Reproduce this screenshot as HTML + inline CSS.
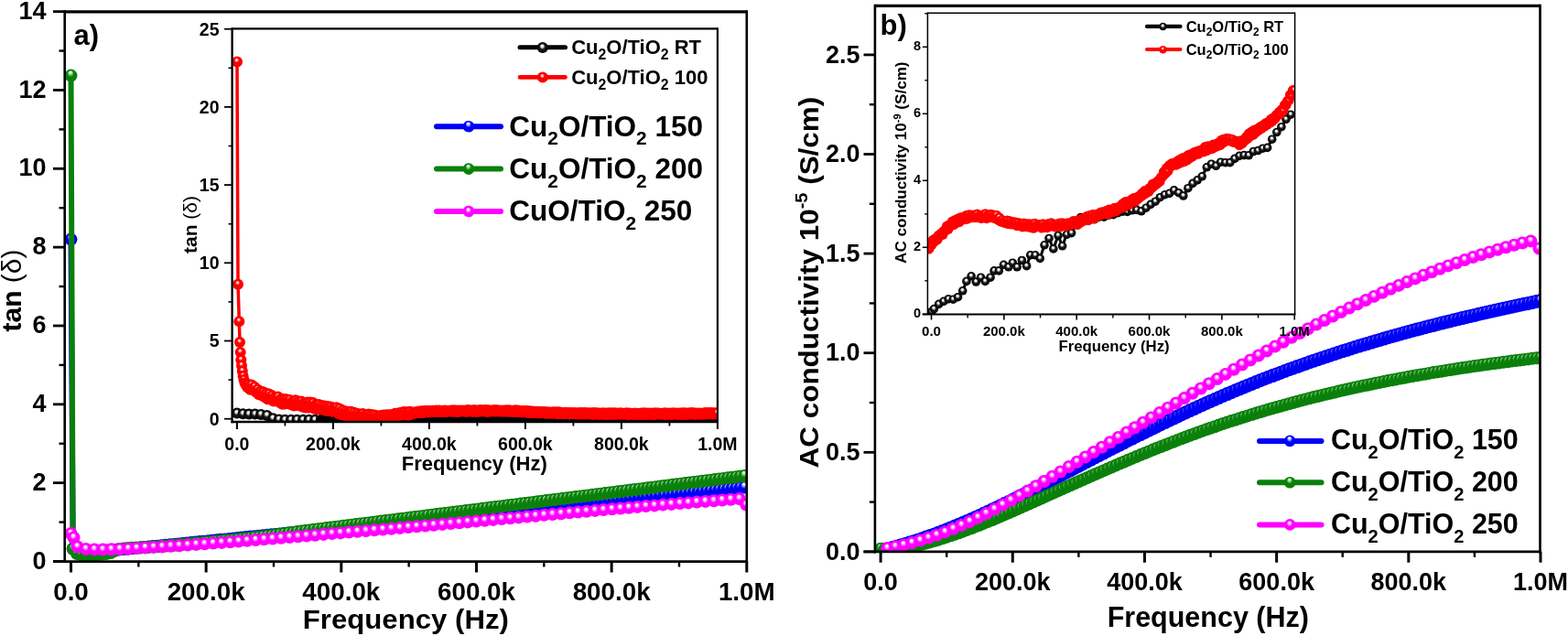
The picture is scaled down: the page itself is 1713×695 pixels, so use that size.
<!DOCTYPE html>
<html><head><meta charset="utf-8"><title>Figure</title>
<style>html,body{margin:0;padding:0;background:#fff;}svg{display:block;}text{font-family:'Liberation Sans', sans-serif;fill:#000;}</style>
</head><body>
<svg width="1713" height="695" viewBox="0 0 1713 695">
<defs><radialGradient id="gb" cx="0.5" cy="0.5" r="0.5" fx="0.45" fy="0.2"><stop offset="0" stop-color="#ffffff"/><stop offset="0.16" stop-color="#ffffff" stop-opacity="0.9"/><stop offset="0.5" stop-color="#0000f5"/><stop offset="1" stop-color="#0000f5"/></radialGradient><radialGradient id="gg" cx="0.5" cy="0.5" r="0.5" fx="0.45" fy="0.2"><stop offset="0" stop-color="#d8ffd8"/><stop offset="0.16" stop-color="#d8ffd8" stop-opacity="0.9"/><stop offset="0.5" stop-color="#0a800a"/><stop offset="1" stop-color="#0a800a"/></radialGradient><radialGradient id="gm" cx="0.5" cy="0.5" r="0.5" fx="0.45" fy="0.3"><stop offset="0" stop-color="#ffffff"/><stop offset="0.16" stop-color="#ffffff" stop-opacity="0.9"/><stop offset="0.5" stop-color="#ff00ff"/><stop offset="1" stop-color="#ff00ff"/></radialGradient><radialGradient id="gr" cx="0.5" cy="0.5" r="0.5" fx="0.45" fy="0.3"><stop offset="0" stop-color="#ffe0e0"/><stop offset="0.16" stop-color="#ffe0e0" stop-opacity="0.9"/><stop offset="0.4" stop-color="#ff0000"/><stop offset="1" stop-color="#ff0000"/></radialGradient><radialGradient id="gk" cx="0.5" cy="0.5" r="0.5" fx="0.45" fy="0.32"><stop offset="0" stop-color="#fff"/><stop offset="0.22" stop-color="#eee"/><stop offset="0.52" stop-color="#1a1a1a"/><stop offset="1" stop-color="#000"/></radialGradient><clipPath id="cA"><rect x="70.7" y="12.8" width="745.1" height="600.8"/></clipPath><clipPath id="cAI"><rect x="253.6" y="31.4" width="530.3" height="429.6"/></clipPath><clipPath id="cB"><rect x="955.9" y="6.3" width="726.6" height="596.6"/></clipPath><clipPath id="cBI"><rect x="1013.4" y="14.2" width="401.2" height="329.3"/></clipPath><circle id="mb" r="7" fill="url(#gb)"/><circle id="mb2" r="7.5" fill="url(#gb)"/><circle id="mg" r="7" fill="url(#gg)"/><circle id="mm" r="7" fill="url(#gm)"/><circle id="mr" r="6" fill="url(#gr)"/><circle id="mk" r="6" fill="url(#gk)"/><circle id="mr2" r="5.6" fill="url(#gr)"/><circle id="mk2" r="4.8" fill="url(#gk)"/><circle id="mk0" r="6" fill="#000"/><circle id="lb" r="6.3" fill="url(#gb)"/><circle id="lg" r="6.3" fill="url(#gg)"/><circle id="lm" r="6.3" fill="url(#gm)"/><circle id="lr" r="6" fill="url(#gr)"/><circle id="lk" r="6" fill="url(#gk)"/><circle id="lr2" r="4.3" fill="url(#gr)"/><circle id="lk2" r="4.3" fill="url(#gk)"/></defs>
<rect width="1713" height="695" fill="#fff"/>
<g clip-path="url(#cA)">
<polyline points="77.5,261.6 79.7,599.8 84.1,603.5 88.8,603.3 93.4,603.1 98.0,602.9 102.6,602.6 107.2,602.3 111.8,602.0 116.4,601.6 121.1,601.3 125.7,600.9 130.3,600.5 134.9,600.1 139.5,599.7 144.1,599.3 148.7,598.8 153.4,598.4 158.0,598.0 162.6,597.6 167.2,597.1 171.8,596.7 176.4,596.2 181.0,595.8 185.7,595.3 190.3,594.9 194.9,594.4 199.5,594.0 204.1,593.5 208.7,593.1 213.3,592.6 218.0,592.1 222.6,591.7 227.2,591.2 231.8,590.8 236.4,590.3 241.0,589.8 245.6,589.4 250.3,588.9 254.9,588.5 259.5,588.0 264.1,587.5 268.7,587.1 273.3,586.6 277.9,586.2 282.6,585.7 287.2,585.2 291.8,584.8 296.4,584.3 301.0,583.9 305.6,583.4 310.2,582.9 314.9,582.5 319.5,582.0 324.1,581.5 328.7,581.1 333.3,580.6 337.9,580.2 342.5,579.7 347.2,579.2 351.8,578.8 356.4,578.3 361.0,577.9 365.6,577.4 370.2,576.9 374.9,576.5 379.5,576.0 384.1,575.5 388.7,575.1 393.3,574.6 397.9,574.2 402.5,573.7 407.2,573.2 411.8,572.8 416.4,572.3 421.0,571.9 425.6,571.4 430.2,570.9 434.8,570.5 439.5,570.0 444.1,569.6 448.7,569.1 453.3,568.6 457.9,568.2 462.5,567.7 467.1,567.2 471.8,566.8 476.4,566.3 481.0,565.9 485.6,565.4 490.2,564.9 494.8,564.5 499.4,564.0 504.1,563.6 508.7,563.1 513.3,562.6 517.9,562.2 522.5,561.7 527.1,561.2 531.7,560.8 536.4,560.3 541.0,559.9 545.6,559.4 550.2,558.9 554.8,558.5 559.4,558.0 564.0,557.6 568.7,557.1 573.3,556.6 577.9,556.2 582.5,555.7 587.1,555.2 591.7,554.8 596.3,554.3 601.0,553.9 605.6,553.4 610.2,552.9 614.8,552.5 619.4,552.0 624.0,551.6 628.6,551.1 633.3,550.6 637.9,550.2 642.5,549.7 647.1,549.2 651.7,548.8 656.3,548.3 660.9,547.9 665.6,547.4 670.2,546.9 674.8,546.5 679.4,546.0 684.0,545.6 688.6,545.1 693.2,544.6 697.9,544.2 702.5,543.7 707.1,543.3 711.7,542.8 716.3,542.3 720.9,541.9 725.5,541.4 730.2,540.9 734.8,540.5 739.4,540.0 744.0,539.6 748.6,539.1 753.2,538.6 757.8,538.2 762.5,537.7 767.1,537.3 771.7,536.8 776.3,536.3 780.9,535.9 785.5,535.4 790.1,534.9 794.8,534.5 799.4,534.0 804.0,533.6 808.6,533.1 813.2,532.6" fill="none" stroke="#0000f5" stroke-width="6" stroke-linejoin="round" stroke-linecap="round"/>
<use href="#mb" x="77.5" y="261.6"/>
<use href="#mb" x="79.7" y="599.8"/>
<use href="#mb" x="84.1" y="603.5"/>
<use href="#mb" x="88.8" y="603.3"/>
<use href="#mb" x="93.4" y="603.1"/>
<use href="#mb" x="98.0" y="602.9"/>
<use href="#mb" x="102.6" y="602.6"/>
<use href="#mb" x="107.2" y="602.3"/>
<use href="#mb" x="111.8" y="602.0"/>
<use href="#mb" x="116.4" y="601.6"/>
<use href="#mb" x="121.1" y="601.3"/>
<use href="#mb" x="125.7" y="600.9"/>
<use href="#mb" x="130.3" y="600.5"/>
<use href="#mb" x="134.9" y="600.1"/>
<use href="#mb" x="139.5" y="599.7"/>
<use href="#mb" x="144.1" y="599.3"/>
<use href="#mb" x="148.7" y="598.8"/>
<use href="#mb" x="153.4" y="598.4"/>
<use href="#mb" x="158.0" y="598.0"/>
<use href="#mb" x="162.6" y="597.6"/>
<use href="#mb" x="167.2" y="597.1"/>
<use href="#mb" x="171.8" y="596.7"/>
<use href="#mb" x="176.4" y="596.2"/>
<use href="#mb" x="181.0" y="595.8"/>
<use href="#mb" x="185.7" y="595.3"/>
<use href="#mb" x="190.3" y="594.9"/>
<use href="#mb" x="194.9" y="594.4"/>
<use href="#mb" x="199.5" y="594.0"/>
<use href="#mb" x="204.1" y="593.5"/>
<use href="#mb" x="208.7" y="593.1"/>
<use href="#mb" x="213.3" y="592.6"/>
<use href="#mb" x="218.0" y="592.1"/>
<use href="#mb" x="222.6" y="591.7"/>
<use href="#mb" x="227.2" y="591.2"/>
<use href="#mb" x="231.8" y="590.8"/>
<use href="#mb" x="236.4" y="590.3"/>
<use href="#mb" x="241.0" y="589.8"/>
<use href="#mb" x="245.6" y="589.4"/>
<use href="#mb" x="250.3" y="588.9"/>
<use href="#mb" x="254.9" y="588.5"/>
<use href="#mb" x="259.5" y="588.0"/>
<use href="#mb" x="264.1" y="587.5"/>
<use href="#mb" x="268.7" y="587.1"/>
<use href="#mb" x="273.3" y="586.6"/>
<use href="#mb" x="277.9" y="586.2"/>
<use href="#mb" x="282.6" y="585.7"/>
<use href="#mb" x="287.2" y="585.2"/>
<use href="#mb" x="291.8" y="584.8"/>
<use href="#mb" x="296.4" y="584.3"/>
<use href="#mb" x="301.0" y="583.9"/>
<use href="#mb" x="305.6" y="583.4"/>
<use href="#mb" x="310.2" y="582.9"/>
<use href="#mb" x="314.9" y="582.5"/>
<use href="#mb" x="319.5" y="582.0"/>
<use href="#mb" x="324.1" y="581.5"/>
<use href="#mb" x="328.7" y="581.1"/>
<use href="#mb" x="333.3" y="580.6"/>
<use href="#mb" x="337.9" y="580.2"/>
<use href="#mb" x="342.5" y="579.7"/>
<use href="#mb" x="347.2" y="579.2"/>
<use href="#mb" x="351.8" y="578.8"/>
<use href="#mb" x="356.4" y="578.3"/>
<use href="#mb" x="361.0" y="577.9"/>
<use href="#mb" x="365.6" y="577.4"/>
<use href="#mb" x="370.2" y="576.9"/>
<use href="#mb" x="374.9" y="576.5"/>
<use href="#mb" x="379.5" y="576.0"/>
<use href="#mb" x="384.1" y="575.5"/>
<use href="#mb" x="388.7" y="575.1"/>
<use href="#mb" x="393.3" y="574.6"/>
<use href="#mb" x="397.9" y="574.2"/>
<use href="#mb" x="402.5" y="573.7"/>
<use href="#mb" x="407.2" y="573.2"/>
<use href="#mb" x="411.8" y="572.8"/>
<use href="#mb" x="416.4" y="572.3"/>
<use href="#mb" x="421.0" y="571.9"/>
<use href="#mb" x="425.6" y="571.4"/>
<use href="#mb" x="430.2" y="570.9"/>
<use href="#mb" x="434.8" y="570.5"/>
<use href="#mb" x="439.5" y="570.0"/>
<use href="#mb" x="444.1" y="569.6"/>
<use href="#mb" x="448.7" y="569.1"/>
<use href="#mb" x="453.3" y="568.6"/>
<use href="#mb" x="457.9" y="568.2"/>
<use href="#mb" x="462.5" y="567.7"/>
<use href="#mb" x="467.1" y="567.2"/>
<use href="#mb" x="471.8" y="566.8"/>
<use href="#mb" x="476.4" y="566.3"/>
<use href="#mb" x="481.0" y="565.9"/>
<use href="#mb" x="485.6" y="565.4"/>
<use href="#mb" x="490.2" y="564.9"/>
<use href="#mb" x="494.8" y="564.5"/>
<use href="#mb" x="499.4" y="564.0"/>
<use href="#mb" x="504.1" y="563.6"/>
<use href="#mb" x="508.7" y="563.1"/>
<use href="#mb" x="513.3" y="562.6"/>
<use href="#mb" x="517.9" y="562.2"/>
<use href="#mb" x="522.5" y="561.7"/>
<use href="#mb" x="527.1" y="561.2"/>
<use href="#mb" x="531.7" y="560.8"/>
<use href="#mb" x="536.4" y="560.3"/>
<use href="#mb" x="541.0" y="559.9"/>
<use href="#mb" x="545.6" y="559.4"/>
<use href="#mb" x="550.2" y="558.9"/>
<use href="#mb" x="554.8" y="558.5"/>
<use href="#mb" x="559.4" y="558.0"/>
<use href="#mb" x="564.0" y="557.6"/>
<use href="#mb" x="568.7" y="557.1"/>
<use href="#mb" x="573.3" y="556.6"/>
<use href="#mb" x="577.9" y="556.2"/>
<use href="#mb" x="582.5" y="555.7"/>
<use href="#mb" x="587.1" y="555.2"/>
<use href="#mb" x="591.7" y="554.8"/>
<use href="#mb" x="596.3" y="554.3"/>
<use href="#mb" x="601.0" y="553.9"/>
<use href="#mb" x="605.6" y="553.4"/>
<use href="#mb" x="610.2" y="552.9"/>
<use href="#mb" x="614.8" y="552.5"/>
<use href="#mb" x="619.4" y="552.0"/>
<use href="#mb" x="624.0" y="551.6"/>
<use href="#mb" x="628.6" y="551.1"/>
<use href="#mb" x="633.3" y="550.6"/>
<use href="#mb" x="637.9" y="550.2"/>
<use href="#mb" x="642.5" y="549.7"/>
<use href="#mb" x="647.1" y="549.2"/>
<use href="#mb" x="651.7" y="548.8"/>
<use href="#mb" x="656.3" y="548.3"/>
<use href="#mb" x="660.9" y="547.9"/>
<use href="#mb" x="665.6" y="547.4"/>
<use href="#mb" x="670.2" y="546.9"/>
<use href="#mb" x="674.8" y="546.5"/>
<use href="#mb" x="679.4" y="546.0"/>
<use href="#mb" x="684.0" y="545.6"/>
<use href="#mb" x="688.6" y="545.1"/>
<use href="#mb" x="693.2" y="544.6"/>
<use href="#mb" x="697.9" y="544.2"/>
<use href="#mb" x="702.5" y="543.7"/>
<use href="#mb" x="707.1" y="543.3"/>
<use href="#mb" x="711.7" y="542.8"/>
<use href="#mb" x="716.3" y="542.3"/>
<use href="#mb" x="720.9" y="541.9"/>
<use href="#mb" x="725.5" y="541.4"/>
<use href="#mb" x="730.2" y="540.9"/>
<use href="#mb" x="734.8" y="540.5"/>
<use href="#mb" x="739.4" y="540.0"/>
<use href="#mb" x="744.0" y="539.6"/>
<use href="#mb" x="748.6" y="539.1"/>
<use href="#mb" x="753.2" y="538.6"/>
<use href="#mb" x="757.8" y="538.2"/>
<use href="#mb" x="762.5" y="537.7"/>
<use href="#mb" x="767.1" y="537.3"/>
<use href="#mb" x="771.7" y="536.8"/>
<use href="#mb" x="776.3" y="536.3"/>
<use href="#mb" x="780.9" y="535.9"/>
<use href="#mb" x="785.5" y="535.4"/>
<use href="#mb" x="790.1" y="534.9"/>
<use href="#mb" x="794.8" y="534.5"/>
<use href="#mb" x="799.4" y="534.0"/>
<use href="#mb" x="804.0" y="533.6"/>
<use href="#mb" x="808.6" y="533.1"/>
<use href="#mb" x="813.2" y="532.6"/>
<polyline points="77.5,82.6 79.7,599.8 84.1,605.0 88.8,606.2 93.4,606.4 98.0,606.4 102.6,606.3 107.2,606.0 111.8,605.6 116.4,605.0 121.1,604.0 125.7,601.8 130.3,599.9 134.9,599.4 139.5,599.1 144.1,598.8 148.7,598.6 153.4,598.3 158.0,598.0 162.6,597.7 167.2,597.4 171.8,597.2 176.4,596.8 181.0,596.5 185.7,596.1 190.3,595.7 194.9,595.3 199.5,594.9 204.1,594.5 208.7,594.1 213.3,593.6 218.0,593.2 222.6,592.8 227.2,592.3 231.8,591.9 236.4,591.5 241.0,591.1 245.6,590.6 250.3,590.2 254.9,589.8 259.5,589.3 264.1,588.8 268.7,588.3 273.3,587.8 277.9,587.3 282.6,586.8 287.2,586.2 291.8,585.6 296.4,585.1 301.0,584.5 305.6,583.8 310.2,583.2 314.9,582.5 319.5,581.9 324.1,581.2 328.7,580.6 333.3,580.0 337.9,579.4 342.5,578.8 347.2,578.2 351.8,577.7 356.4,577.1 361.0,576.6 365.6,576.0 370.2,575.4 374.9,574.8 379.5,574.3 384.1,573.7 388.7,573.1 393.3,572.5 397.9,571.9 402.5,571.4 407.2,570.8 411.8,570.2 416.4,569.6 421.0,569.1 425.6,568.5 430.2,567.9 434.8,567.3 439.5,566.8 444.1,566.2 448.7,565.6 453.3,565.0 457.9,564.5 462.5,563.9 467.1,563.3 471.8,562.7 476.4,562.1 481.0,561.6 485.6,561.0 490.2,560.4 494.8,559.8 499.4,559.3 504.1,558.7 508.7,558.1 513.3,557.5 517.9,557.0 522.5,556.4 527.1,555.8 531.7,555.2 536.4,554.6 541.0,554.1 545.6,553.5 550.2,552.9 554.8,552.3 559.4,551.8 564.0,551.2 568.7,550.6 573.3,550.0 577.9,549.5 582.5,548.9 587.1,548.3 591.7,547.7 596.3,547.1 601.0,546.6 605.6,546.0 610.2,545.4 614.8,544.8 619.4,544.3 624.0,543.7 628.6,543.1 633.3,542.5 637.9,542.0 642.5,541.4 647.1,540.8 651.7,540.2 656.3,539.7 660.9,539.1 665.6,538.5 670.2,537.9 674.8,537.3 679.4,536.8 684.0,536.2 688.6,535.6 693.2,535.0 697.9,534.5 702.5,533.9 707.1,533.3 711.7,532.7 716.3,532.2 720.9,531.6 725.5,531.0 730.2,530.4 734.8,529.8 739.4,529.3 744.0,528.7 748.6,528.1 753.2,527.5 757.8,527.0 762.5,526.4 767.1,525.8 771.7,525.2 776.3,524.7 780.9,524.1 785.5,523.5 790.1,522.9 794.8,522.3 799.4,521.8 804.0,521.2 808.6,520.6 813.2,520.0" fill="none" stroke="#0a800a" stroke-width="6" stroke-linejoin="round" stroke-linecap="round"/>
<use href="#mg" x="77.5" y="82.6"/>
<use href="#mg" x="79.7" y="599.8"/>
<use href="#mg" x="84.1" y="605.0"/>
<use href="#mg" x="88.8" y="606.2"/>
<use href="#mg" x="93.4" y="606.4"/>
<use href="#mg" x="98.0" y="606.4"/>
<use href="#mg" x="102.6" y="606.3"/>
<use href="#mg" x="107.2" y="606.0"/>
<use href="#mg" x="111.8" y="605.6"/>
<use href="#mg" x="116.4" y="605.0"/>
<use href="#mg" x="121.1" y="604.0"/>
<use href="#mg" x="125.7" y="601.8"/>
<use href="#mg" x="130.3" y="599.9"/>
<use href="#mg" x="134.9" y="599.4"/>
<use href="#mg" x="139.5" y="599.1"/>
<use href="#mg" x="144.1" y="598.8"/>
<use href="#mg" x="148.7" y="598.6"/>
<use href="#mg" x="153.4" y="598.3"/>
<use href="#mg" x="158.0" y="598.0"/>
<use href="#mg" x="162.6" y="597.7"/>
<use href="#mg" x="167.2" y="597.4"/>
<use href="#mg" x="171.8" y="597.2"/>
<use href="#mg" x="176.4" y="596.8"/>
<use href="#mg" x="181.0" y="596.5"/>
<use href="#mg" x="185.7" y="596.1"/>
<use href="#mg" x="190.3" y="595.7"/>
<use href="#mg" x="194.9" y="595.3"/>
<use href="#mg" x="199.5" y="594.9"/>
<use href="#mg" x="204.1" y="594.5"/>
<use href="#mg" x="208.7" y="594.1"/>
<use href="#mg" x="213.3" y="593.6"/>
<use href="#mg" x="218.0" y="593.2"/>
<use href="#mg" x="222.6" y="592.8"/>
<use href="#mg" x="227.2" y="592.3"/>
<use href="#mg" x="231.8" y="591.9"/>
<use href="#mg" x="236.4" y="591.5"/>
<use href="#mg" x="241.0" y="591.1"/>
<use href="#mg" x="245.6" y="590.6"/>
<use href="#mg" x="250.3" y="590.2"/>
<use href="#mg" x="254.9" y="589.8"/>
<use href="#mg" x="259.5" y="589.3"/>
<use href="#mg" x="264.1" y="588.8"/>
<use href="#mg" x="268.7" y="588.3"/>
<use href="#mg" x="273.3" y="587.8"/>
<use href="#mg" x="277.9" y="587.3"/>
<use href="#mg" x="282.6" y="586.8"/>
<use href="#mg" x="287.2" y="586.2"/>
<use href="#mg" x="291.8" y="585.6"/>
<use href="#mg" x="296.4" y="585.1"/>
<use href="#mg" x="301.0" y="584.5"/>
<use href="#mg" x="305.6" y="583.8"/>
<use href="#mg" x="310.2" y="583.2"/>
<use href="#mg" x="314.9" y="582.5"/>
<use href="#mg" x="319.5" y="581.9"/>
<use href="#mg" x="324.1" y="581.2"/>
<use href="#mg" x="328.7" y="580.6"/>
<use href="#mg" x="333.3" y="580.0"/>
<use href="#mg" x="337.9" y="579.4"/>
<use href="#mg" x="342.5" y="578.8"/>
<use href="#mg" x="347.2" y="578.2"/>
<use href="#mg" x="351.8" y="577.7"/>
<use href="#mg" x="356.4" y="577.1"/>
<use href="#mg" x="361.0" y="576.6"/>
<use href="#mg" x="365.6" y="576.0"/>
<use href="#mg" x="370.2" y="575.4"/>
<use href="#mg" x="374.9" y="574.8"/>
<use href="#mg" x="379.5" y="574.3"/>
<use href="#mg" x="384.1" y="573.7"/>
<use href="#mg" x="388.7" y="573.1"/>
<use href="#mg" x="393.3" y="572.5"/>
<use href="#mg" x="397.9" y="571.9"/>
<use href="#mg" x="402.5" y="571.4"/>
<use href="#mg" x="407.2" y="570.8"/>
<use href="#mg" x="411.8" y="570.2"/>
<use href="#mg" x="416.4" y="569.6"/>
<use href="#mg" x="421.0" y="569.1"/>
<use href="#mg" x="425.6" y="568.5"/>
<use href="#mg" x="430.2" y="567.9"/>
<use href="#mg" x="434.8" y="567.3"/>
<use href="#mg" x="439.5" y="566.8"/>
<use href="#mg" x="444.1" y="566.2"/>
<use href="#mg" x="448.7" y="565.6"/>
<use href="#mg" x="453.3" y="565.0"/>
<use href="#mg" x="457.9" y="564.5"/>
<use href="#mg" x="462.5" y="563.9"/>
<use href="#mg" x="467.1" y="563.3"/>
<use href="#mg" x="471.8" y="562.7"/>
<use href="#mg" x="476.4" y="562.1"/>
<use href="#mg" x="481.0" y="561.6"/>
<use href="#mg" x="485.6" y="561.0"/>
<use href="#mg" x="490.2" y="560.4"/>
<use href="#mg" x="494.8" y="559.8"/>
<use href="#mg" x="499.4" y="559.3"/>
<use href="#mg" x="504.1" y="558.7"/>
<use href="#mg" x="508.7" y="558.1"/>
<use href="#mg" x="513.3" y="557.5"/>
<use href="#mg" x="517.9" y="557.0"/>
<use href="#mg" x="522.5" y="556.4"/>
<use href="#mg" x="527.1" y="555.8"/>
<use href="#mg" x="531.7" y="555.2"/>
<use href="#mg" x="536.4" y="554.6"/>
<use href="#mg" x="541.0" y="554.1"/>
<use href="#mg" x="545.6" y="553.5"/>
<use href="#mg" x="550.2" y="552.9"/>
<use href="#mg" x="554.8" y="552.3"/>
<use href="#mg" x="559.4" y="551.8"/>
<use href="#mg" x="564.0" y="551.2"/>
<use href="#mg" x="568.7" y="550.6"/>
<use href="#mg" x="573.3" y="550.0"/>
<use href="#mg" x="577.9" y="549.5"/>
<use href="#mg" x="582.5" y="548.9"/>
<use href="#mg" x="587.1" y="548.3"/>
<use href="#mg" x="591.7" y="547.7"/>
<use href="#mg" x="596.3" y="547.1"/>
<use href="#mg" x="601.0" y="546.6"/>
<use href="#mg" x="605.6" y="546.0"/>
<use href="#mg" x="610.2" y="545.4"/>
<use href="#mg" x="614.8" y="544.8"/>
<use href="#mg" x="619.4" y="544.3"/>
<use href="#mg" x="624.0" y="543.7"/>
<use href="#mg" x="628.6" y="543.1"/>
<use href="#mg" x="633.3" y="542.5"/>
<use href="#mg" x="637.9" y="542.0"/>
<use href="#mg" x="642.5" y="541.4"/>
<use href="#mg" x="647.1" y="540.8"/>
<use href="#mg" x="651.7" y="540.2"/>
<use href="#mg" x="656.3" y="539.7"/>
<use href="#mg" x="660.9" y="539.1"/>
<use href="#mg" x="665.6" y="538.5"/>
<use href="#mg" x="670.2" y="537.9"/>
<use href="#mg" x="674.8" y="537.3"/>
<use href="#mg" x="679.4" y="536.8"/>
<use href="#mg" x="684.0" y="536.2"/>
<use href="#mg" x="688.6" y="535.6"/>
<use href="#mg" x="693.2" y="535.0"/>
<use href="#mg" x="697.9" y="534.5"/>
<use href="#mg" x="702.5" y="533.9"/>
<use href="#mg" x="707.1" y="533.3"/>
<use href="#mg" x="711.7" y="532.7"/>
<use href="#mg" x="716.3" y="532.2"/>
<use href="#mg" x="720.9" y="531.6"/>
<use href="#mg" x="725.5" y="531.0"/>
<use href="#mg" x="730.2" y="530.4"/>
<use href="#mg" x="734.8" y="529.8"/>
<use href="#mg" x="739.4" y="529.3"/>
<use href="#mg" x="744.0" y="528.7"/>
<use href="#mg" x="748.6" y="528.1"/>
<use href="#mg" x="753.2" y="527.5"/>
<use href="#mg" x="757.8" y="527.0"/>
<use href="#mg" x="762.5" y="526.4"/>
<use href="#mg" x="767.1" y="525.8"/>
<use href="#mg" x="771.7" y="525.2"/>
<use href="#mg" x="776.3" y="524.7"/>
<use href="#mg" x="780.9" y="524.1"/>
<use href="#mg" x="785.5" y="523.5"/>
<use href="#mg" x="790.1" y="522.9"/>
<use href="#mg" x="794.8" y="522.3"/>
<use href="#mg" x="799.4" y="521.8"/>
<use href="#mg" x="804.0" y="521.2"/>
<use href="#mg" x="808.6" y="520.6"/>
<use href="#mg" x="813.2" y="520.0"/>
<polyline points="77.5,583.0 80.5,587.5 84.6,597.4 93.9,599.9 103.1,600.4 112.4,600.6 121.7,600.3 130.9,600.0 140.2,599.6 149.5,599.1 158.8,598.5 168.0,597.9 177.3,597.4 186.6,596.8 195.8,596.2 205.1,595.6 214.4,594.9 223.6,594.3 232.9,593.6 242.2,592.9 251.5,592.2 260.7,591.5 270.0,590.8 279.3,590.1 288.5,589.3 297.8,588.6 307.1,587.8 316.4,587.0 325.6,586.3 334.9,585.5 344.2,584.7 353.4,583.9 362.7,583.1 372.0,582.4 381.2,581.6 390.5,580.8 399.8,580.0 409.0,579.2 418.3,578.5 427.6,577.7 436.9,576.9 446.1,576.1 455.4,575.3 464.7,574.5 473.9,573.7 483.2,572.9 492.5,572.1 501.8,571.2 511.0,570.4 520.3,569.6 529.6,568.7 538.8,567.9 548.1,567.0 557.4,566.2 566.6,565.4 575.9,564.5 585.2,563.7 594.4,562.8 603.7,562.0 613.0,561.2 622.3,560.3 631.5,559.5 640.8,558.7 650.1,557.9 659.3,557.1 668.6,556.3 677.9,555.5 687.1,554.7 696.4,553.9 705.7,553.1 715.0,552.4 724.2,551.6 733.5,550.9 742.8,550.1 752.0,549.4 761.3,548.6 770.6,547.9 779.9,547.2 789.1,546.5 798.4,545.7 807.7,545.0 815.3,551.5" fill="none" stroke="#ff00ff" stroke-width="6" stroke-linejoin="round" stroke-linecap="round"/>
<use href="#mm" x="77.5" y="583.0"/>
<use href="#mm" x="80.5" y="587.5"/>
<use href="#mm" x="84.6" y="597.4"/>
<use href="#mm" x="93.9" y="599.9"/>
<use href="#mm" x="103.1" y="600.4"/>
<use href="#mm" x="112.4" y="600.6"/>
<use href="#mm" x="121.7" y="600.3"/>
<use href="#mm" x="130.9" y="600.0"/>
<use href="#mm" x="140.2" y="599.6"/>
<use href="#mm" x="149.5" y="599.1"/>
<use href="#mm" x="158.8" y="598.5"/>
<use href="#mm" x="168.0" y="597.9"/>
<use href="#mm" x="177.3" y="597.4"/>
<use href="#mm" x="186.6" y="596.8"/>
<use href="#mm" x="195.8" y="596.2"/>
<use href="#mm" x="205.1" y="595.6"/>
<use href="#mm" x="214.4" y="594.9"/>
<use href="#mm" x="223.6" y="594.3"/>
<use href="#mm" x="232.9" y="593.6"/>
<use href="#mm" x="242.2" y="592.9"/>
<use href="#mm" x="251.5" y="592.2"/>
<use href="#mm" x="260.7" y="591.5"/>
<use href="#mm" x="270.0" y="590.8"/>
<use href="#mm" x="279.3" y="590.1"/>
<use href="#mm" x="288.5" y="589.3"/>
<use href="#mm" x="297.8" y="588.6"/>
<use href="#mm" x="307.1" y="587.8"/>
<use href="#mm" x="316.4" y="587.0"/>
<use href="#mm" x="325.6" y="586.3"/>
<use href="#mm" x="334.9" y="585.5"/>
<use href="#mm" x="344.2" y="584.7"/>
<use href="#mm" x="353.4" y="583.9"/>
<use href="#mm" x="362.7" y="583.1"/>
<use href="#mm" x="372.0" y="582.4"/>
<use href="#mm" x="381.2" y="581.6"/>
<use href="#mm" x="390.5" y="580.8"/>
<use href="#mm" x="399.8" y="580.0"/>
<use href="#mm" x="409.0" y="579.2"/>
<use href="#mm" x="418.3" y="578.5"/>
<use href="#mm" x="427.6" y="577.7"/>
<use href="#mm" x="436.9" y="576.9"/>
<use href="#mm" x="446.1" y="576.1"/>
<use href="#mm" x="455.4" y="575.3"/>
<use href="#mm" x="464.7" y="574.5"/>
<use href="#mm" x="473.9" y="573.7"/>
<use href="#mm" x="483.2" y="572.9"/>
<use href="#mm" x="492.5" y="572.1"/>
<use href="#mm" x="501.8" y="571.2"/>
<use href="#mm" x="511.0" y="570.4"/>
<use href="#mm" x="520.3" y="569.6"/>
<use href="#mm" x="529.6" y="568.7"/>
<use href="#mm" x="538.8" y="567.9"/>
<use href="#mm" x="548.1" y="567.0"/>
<use href="#mm" x="557.4" y="566.2"/>
<use href="#mm" x="566.6" y="565.4"/>
<use href="#mm" x="575.9" y="564.5"/>
<use href="#mm" x="585.2" y="563.7"/>
<use href="#mm" x="594.4" y="562.8"/>
<use href="#mm" x="603.7" y="562.0"/>
<use href="#mm" x="613.0" y="561.2"/>
<use href="#mm" x="622.3" y="560.3"/>
<use href="#mm" x="631.5" y="559.5"/>
<use href="#mm" x="640.8" y="558.7"/>
<use href="#mm" x="650.1" y="557.9"/>
<use href="#mm" x="659.3" y="557.1"/>
<use href="#mm" x="668.6" y="556.3"/>
<use href="#mm" x="677.9" y="555.5"/>
<use href="#mm" x="687.1" y="554.7"/>
<use href="#mm" x="696.4" y="553.9"/>
<use href="#mm" x="705.7" y="553.1"/>
<use href="#mm" x="715.0" y="552.4"/>
<use href="#mm" x="724.2" y="551.6"/>
<use href="#mm" x="733.5" y="550.9"/>
<use href="#mm" x="742.8" y="550.1"/>
<use href="#mm" x="752.0" y="549.4"/>
<use href="#mm" x="761.3" y="548.6"/>
<use href="#mm" x="770.6" y="547.9"/>
<use href="#mm" x="779.9" y="547.2"/>
<use href="#mm" x="789.1" y="546.5"/>
<use href="#mm" x="798.4" y="545.7"/>
<use href="#mm" x="807.7" y="545.0"/>
<use href="#mm" x="815.3" y="551.5"/>
</g>
<line x1="70.70" y1="12.80" x2="815.80" y2="12.80" stroke="#000" stroke-width="3.3"/>
<line x1="70.70" y1="11.20" x2="70.70" y2="615.00" stroke="#000" stroke-width="2.6"/>
<line x1="815.80" y1="11.20" x2="815.80" y2="615.00" stroke="#000" stroke-width="2.6"/>
<line x1="58.00" y1="613.60" x2="817.00" y2="613.60" stroke="#000" stroke-width="2.8"/>
<line x1="58.00" y1="613.50" x2="70.70" y2="613.50" stroke="#000" stroke-width="2.8"/>
<text x="50.50" y="621.60" font-size="27" text-anchor="end" font-weight="bold" >0</text>
<line x1="64.50" y1="570.58" x2="70.70" y2="570.58" stroke="#000" stroke-width="2.4"/>
<line x1="58.00" y1="527.66" x2="70.70" y2="527.66" stroke="#000" stroke-width="2.8"/>
<text x="50.50" y="535.76" font-size="27" text-anchor="end" font-weight="bold" >2</text>
<line x1="64.50" y1="484.74" x2="70.70" y2="484.74" stroke="#000" stroke-width="2.4"/>
<line x1="58.00" y1="441.82" x2="70.70" y2="441.82" stroke="#000" stroke-width="2.8"/>
<text x="50.50" y="449.92" font-size="27" text-anchor="end" font-weight="bold" >4</text>
<line x1="64.50" y1="398.90" x2="70.70" y2="398.90" stroke="#000" stroke-width="2.4"/>
<line x1="58.00" y1="355.98" x2="70.70" y2="355.98" stroke="#000" stroke-width="2.8"/>
<text x="50.50" y="364.08" font-size="27" text-anchor="end" font-weight="bold" >6</text>
<line x1="64.50" y1="313.06" x2="70.70" y2="313.06" stroke="#000" stroke-width="2.4"/>
<line x1="58.00" y1="270.14" x2="70.70" y2="270.14" stroke="#000" stroke-width="2.8"/>
<text x="50.50" y="278.24" font-size="27" text-anchor="end" font-weight="bold" >8</text>
<line x1="64.50" y1="227.22" x2="70.70" y2="227.22" stroke="#000" stroke-width="2.4"/>
<line x1="58.00" y1="184.30" x2="70.70" y2="184.30" stroke="#000" stroke-width="2.8"/>
<text x="50.50" y="192.40" font-size="27" text-anchor="end" font-weight="bold" >10</text>
<line x1="64.50" y1="141.38" x2="70.70" y2="141.38" stroke="#000" stroke-width="2.4"/>
<line x1="58.00" y1="98.46" x2="70.70" y2="98.46" stroke="#000" stroke-width="2.8"/>
<text x="50.50" y="106.56" font-size="27" text-anchor="end" font-weight="bold" >12</text>
<line x1="64.50" y1="55.54" x2="70.70" y2="55.54" stroke="#000" stroke-width="2.4"/>
<line x1="58.00" y1="12.62" x2="70.70" y2="12.62" stroke="#000" stroke-width="2.8"/>
<text x="50.50" y="20.72" font-size="27" text-anchor="end" font-weight="bold" >14</text>
<line x1="77.50" y1="613.60" x2="77.50" y2="625.50" stroke="#000" stroke-width="3"/>
<line x1="151.33" y1="613.60" x2="151.33" y2="619.50" stroke="#000" stroke-width="2.4"/>
<line x1="225.16" y1="613.60" x2="225.16" y2="625.50" stroke="#000" stroke-width="3"/>
<line x1="298.99" y1="613.60" x2="298.99" y2="619.50" stroke="#000" stroke-width="2.4"/>
<line x1="372.82" y1="613.60" x2="372.82" y2="625.50" stroke="#000" stroke-width="3"/>
<line x1="446.65" y1="613.60" x2="446.65" y2="619.50" stroke="#000" stroke-width="2.4"/>
<line x1="520.48" y1="613.60" x2="520.48" y2="625.50" stroke="#000" stroke-width="3"/>
<line x1="594.31" y1="613.60" x2="594.31" y2="619.50" stroke="#000" stroke-width="2.4"/>
<line x1="668.14" y1="613.60" x2="668.14" y2="625.50" stroke="#000" stroke-width="3"/>
<line x1="741.97" y1="613.60" x2="741.97" y2="619.50" stroke="#000" stroke-width="2.4"/>
<line x1="815.80" y1="613.60" x2="815.80" y2="625.50" stroke="#000" stroke-width="3"/>
<text transform="translate(77.50,656.00) scale(1.030,1)" font-size="27" text-anchor="middle" font-weight="bold" >0.0</text>
<text transform="translate(225.16,656.00) scale(1.030,1)" font-size="27" text-anchor="middle" font-weight="bold" >200.0k</text>
<text transform="translate(372.82,656.00) scale(1.030,1)" font-size="27" text-anchor="middle" font-weight="bold" >400.0k</text>
<text transform="translate(520.48,656.00) scale(1.030,1)" font-size="27" text-anchor="middle" font-weight="bold" >600.0k</text>
<text transform="translate(668.14,656.00) scale(1.030,1)" font-size="27" text-anchor="middle" font-weight="bold" >800.0k</text>
<text transform="translate(815.80,656.00) scale(1.030,1)" font-size="27" text-anchor="middle" font-weight="bold" >1.0M</text>
<text transform="translate(443.30,686.50) scale(1.057,1)" font-size="29.5" text-anchor="middle" font-weight="bold" >Frequency (Hz)</text>
<text transform="translate(22.9,317.5) rotate(-90)" font-size="30" text-anchor="middle" font-weight="bold">tan <tspan font-weight="normal">(δ)</tspan></text>
<text x="80.50" y="49.20" font-size="31" text-anchor="start" font-weight="bold" >a)</text>
<g clip-path="url(#cAI)">
<polyline points="258.9,451.6 265.5,452.3 272.0,452.6 278.6,452.6 285.1,452.9 291.7,453.9 298.3,457.2 304.8,458.4 311.4,458.8 318.0,458.8 324.5,458.8 331.1,458.8 337.6,458.8 344.2,458.8 350.8,458.8 357.3,458.9 363.9,458.9 370.5,458.9 377.0,458.9 383.6,458.9 390.1,458.9 396.7,458.9 403.3,458.9 409.8,458.9 416.4,458.9 423.0,458.9 429.5,458.9 436.1,458.9 442.6,458.9 449.2,458.9 455.8,458.9 462.3,458.9 468.9,458.9 475.5,458.9 482.0,458.9 488.6,458.9 495.1,459.0 501.7,459.0 508.3,459.0 514.8,459.0 521.4,459.0 528.0,459.0 534.5,459.0 541.1,459.0 547.6,459.0 554.2,459.0 560.8,459.0 567.3,459.0 573.9,459.0 580.5,459.0 587.0,459.0 593.6,459.0 600.1,459.0 606.7,459.0 613.3,459.0 619.8,459.0 626.4,459.0 633.0,459.0 639.5,459.0 646.1,459.0 652.6,459.0 659.2,459.0 665.8,459.0 672.3,459.0 678.9,459.0 685.5,459.0 692.0,459.0 698.6,459.0 705.2,459.0 711.7,459.0 718.3,459.0 724.8,459.0 731.4,459.0 738.0,459.0 744.5,459.0 751.1,459.0 757.7,459.0 764.2,459.0 770.8,459.0 777.3,459.0 783.9,459.0" fill="none" stroke="#000" stroke-width="3.5" stroke-linejoin="round" stroke-linecap="round"/>
<use href="#mk" x="258.9" y="451.6"/>
<use href="#mk" x="265.5" y="452.3"/>
<use href="#mk" x="272.0" y="452.6"/>
<use href="#mk" x="278.6" y="452.6"/>
<use href="#mk" x="285.1" y="452.9"/>
<use href="#mk" x="291.7" y="453.9"/>
<use href="#mk" x="298.3" y="457.2"/>
<use href="#mk" x="304.8" y="458.4"/>
<use href="#mk" x="311.4" y="458.8"/>
<use href="#mk" x="318.0" y="458.8"/>
<use href="#mk" x="324.5" y="458.8"/>
<use href="#mk" x="331.1" y="458.8"/>
<use href="#mk" x="337.6" y="458.8"/>
<use href="#mk" x="344.2" y="458.8"/>
<use href="#mk0" x="350.8" y="458.8"/>
<use href="#mk0" x="357.3" y="458.9"/>
<use href="#mk0" x="363.9" y="458.9"/>
<use href="#mk0" x="370.5" y="458.9"/>
<use href="#mk0" x="377.0" y="458.9"/>
<use href="#mk0" x="383.6" y="458.9"/>
<use href="#mk0" x="390.1" y="458.9"/>
<use href="#mk0" x="396.7" y="458.9"/>
<use href="#mk0" x="403.3" y="458.9"/>
<use href="#mk0" x="409.8" y="458.9"/>
<use href="#mk0" x="416.4" y="458.9"/>
<use href="#mk0" x="423.0" y="458.9"/>
<use href="#mk0" x="429.5" y="458.9"/>
<use href="#mk0" x="436.1" y="458.9"/>
<use href="#mk0" x="442.6" y="458.9"/>
<use href="#mk0" x="449.2" y="458.9"/>
<use href="#mk0" x="455.8" y="458.9"/>
<use href="#mk0" x="462.3" y="458.9"/>
<use href="#mk0" x="468.9" y="458.9"/>
<use href="#mk0" x="475.5" y="458.9"/>
<use href="#mk0" x="482.0" y="458.9"/>
<use href="#mk0" x="488.6" y="458.9"/>
<use href="#mk0" x="495.1" y="459.0"/>
<use href="#mk0" x="501.7" y="459.0"/>
<use href="#mk0" x="508.3" y="459.0"/>
<use href="#mk0" x="514.8" y="459.0"/>
<use href="#mk0" x="521.4" y="459.0"/>
<use href="#mk0" x="528.0" y="459.0"/>
<use href="#mk0" x="534.5" y="459.0"/>
<use href="#mk0" x="541.1" y="459.0"/>
<use href="#mk0" x="547.6" y="459.0"/>
<use href="#mk0" x="554.2" y="459.0"/>
<use href="#mk0" x="560.8" y="459.0"/>
<use href="#mk0" x="567.3" y="459.0"/>
<use href="#mk0" x="573.9" y="459.0"/>
<use href="#mk0" x="580.5" y="459.0"/>
<use href="#mk0" x="587.0" y="459.0"/>
<use href="#mk0" x="593.6" y="459.0"/>
<use href="#mk0" x="600.1" y="459.0"/>
<use href="#mk0" x="606.7" y="459.0"/>
<use href="#mk0" x="613.3" y="459.0"/>
<use href="#mk0" x="619.8" y="459.0"/>
<use href="#mk0" x="626.4" y="459.0"/>
<use href="#mk0" x="633.0" y="459.0"/>
<use href="#mk0" x="639.5" y="459.0"/>
<use href="#mk0" x="646.1" y="459.0"/>
<use href="#mk0" x="652.6" y="459.0"/>
<use href="#mk0" x="659.2" y="459.0"/>
<use href="#mk0" x="665.8" y="459.0"/>
<use href="#mk0" x="672.3" y="459.0"/>
<use href="#mk0" x="678.9" y="459.0"/>
<use href="#mk0" x="685.5" y="459.0"/>
<use href="#mk0" x="692.0" y="459.0"/>
<use href="#mk0" x="698.6" y="459.0"/>
<use href="#mk0" x="705.2" y="459.0"/>
<use href="#mk0" x="711.7" y="459.0"/>
<use href="#mk0" x="718.3" y="459.0"/>
<use href="#mk0" x="724.8" y="459.0"/>
<use href="#mk0" x="731.4" y="459.0"/>
<use href="#mk0" x="738.0" y="459.0"/>
<use href="#mk0" x="744.5" y="459.0"/>
<use href="#mk0" x="751.1" y="459.0"/>
<use href="#mk0" x="757.7" y="459.0"/>
<use href="#mk0" x="764.2" y="459.0"/>
<use href="#mk0" x="770.8" y="459.0"/>
<use href="#mk0" x="777.3" y="459.0"/>
<use href="#mk0" x="783.9" y="459.0"/>
<polyline points="259.0,67.5 260.0,310.7 261.3,351.2 262.0,374.1 262.7,385.0 263.3,393.3 264.0,399.4 264.8,405.6 265.6,411.0 266.5,415.1 267.5,418.5 268.7,420.5 270.0,423.1 271.6,420.0 273.2,425.8 274.8,420.6 276.4,425.7 278.0,422.7 279.6,428.6 281.2,425.5 282.8,431.3 284.4,427.5 286.0,432.3 287.6,428.3 289.2,434.1 290.8,429.8 292.4,436.3 294.0,430.4 295.6,436.6 297.2,432.3 298.8,438.6 300.4,434.1 302.0,438.1 303.6,433.6 305.2,439.7 306.8,435.9 308.4,441.7 310.0,436.0 311.6,441.5 313.2,436.2 314.8,441.1 316.4,436.9 318.0,442.3 319.6,438.7 321.2,443.4 322.8,437.3 324.4,442.8 326.0,438.4 327.6,443.5 329.2,438.6 330.8,444.8 332.4,440.1 334.0,445.4 335.6,439.5 337.2,445.5 338.8,439.5 340.4,445.3 342.0,440.1 343.6,446.8 345.2,442.0 346.8,447.3 348.4,442.0 350.0,447.0 351.6,443.1 353.2,448.1 354.8,443.4 356.4,449.1 358.0,444.0 359.6,449.1 361.2,444.4 362.8,449.8 364.4,445.6 366.0,449.6 367.6,445.2 369.2,451.7 370.8,446.5 372.4,453.0 374.0,448.2 375.6,453.8 377.2,449.2 378.8,454.9 380.4,449.7 382.0,453.9 383.6,449.8 385.2,454.8 386.8,450.7 388.4,454.2 390.0,451.8 391.6,454.7 393.2,452.5 394.8,455.3 396.4,451.9 398.0,455.5 399.6,453.0 401.2,456.4 402.8,452.5 404.4,457.4 406.0,453.0 407.6,456.5 409.2,453.5 410.8,457.5 412.4,454.4 414.0,457.5 415.6,453.9 417.2,457.3 418.8,453.4 420.4,457.2 422.0,453.3 423.6,456.7 425.2,453.3 426.8,456.1 428.4,452.9 430.0,455.6 431.6,451.8 433.2,455.5 434.8,451.4 436.4,453.8 438.0,450.7 439.6,453.6 441.2,450.0 442.8,453.5 444.4,450.2 446.0,453.9 447.6,449.8 449.2,452.7 450.8,450.4 452.4,451.5 454.0,450.2 455.6,451.2 457.2,449.4 458.8,450.9 460.4,449.2 462.0,450.9 463.6,448.9 465.2,450.5 466.8,448.7 468.4,450.4 470.0,448.9 471.6,450.2 473.2,448.8 474.8,450.0 476.4,448.6 478.0,449.9 479.6,448.5 481.2,450.0 482.8,448.8 484.4,449.9 486.0,448.6 487.6,450.0 489.2,448.7 490.8,449.6 492.4,448.4 494.0,449.7 495.6,448.3 497.2,449.7 498.8,448.5 500.4,450.0 502.0,448.5 503.6,449.5 505.2,448.4 506.8,449.6 508.4,448.5 510.0,449.7 511.6,448.0 513.2,449.5 514.8,448.4 516.4,449.8 518.0,448.1 519.6,450.0 521.2,448.5 522.8,449.7 524.4,448.1 526.0,449.4 527.6,448.2 529.2,449.5 530.8,448.1 532.4,450.0 534.0,448.3 535.6,449.4 537.2,448.6 538.8,449.6 540.4,448.1 542.0,449.5 543.6,448.2 545.2,449.6 546.8,448.4 548.4,449.8 550.0,448.4 551.6,449.6 553.2,448.2 554.8,449.7 556.4,448.2 558.0,449.8 559.6,448.7 561.2,449.9 562.8,448.3 564.4,450.1 566.0,448.4 567.6,449.9 569.2,448.9 570.8,450.5 572.4,448.9 574.0,450.5 575.6,449.1 577.2,450.9 578.8,449.2 580.4,450.9 582.0,449.5 583.6,451.1 585.2,449.8 586.8,451.3 588.4,449.8 590.0,451.5 591.6,450.0 593.2,451.2 594.8,450.1 596.4,451.8 598.0,450.2 599.6,451.8 601.2,450.4 602.8,451.7 604.4,450.3 606.0,451.6 607.6,450.3 609.2,452.2 610.8,450.3 612.4,451.8 614.0,450.9 615.6,452.3 617.2,450.8 618.8,452.0 620.4,450.9 622.0,452.4 623.6,451.1 625.2,452.3 626.8,450.9 628.4,452.5 630.0,451.3 631.6,452.6 633.2,451.1 634.8,452.5 636.4,451.1 638.0,452.4 639.6,451.0 641.2,452.4 642.8,451.2 644.4,452.5 646.0,451.2 647.6,452.9 649.2,451.1 650.8,452.5 652.4,451.2 654.0,453.0 655.6,451.5 657.2,452.7 658.8,451.2 660.4,452.9 662.0,451.4 663.6,452.9 665.2,451.3 666.8,452.7 668.4,451.3 670.0,452.9 671.6,451.3 673.2,452.8 674.8,451.5 676.4,452.8 678.0,451.2 679.6,452.7 681.2,451.7 682.8,452.6 684.4,451.3 686.0,453.2 687.6,451.6 689.2,452.7 690.8,451.7 692.4,453.0 694.0,451.5 695.6,453.1 697.2,451.7 698.8,453.1 700.4,451.5 702.0,453.1 703.6,451.3 705.2,453.1 706.8,451.5 708.4,453.0 710.0,451.5 711.6,452.7 713.2,451.5 714.8,453.2 716.4,451.3 718.0,452.6 719.6,451.4 721.2,452.8 722.8,451.7 724.4,452.7 726.0,451.3 727.6,453.2 729.2,451.5 730.8,452.8 732.4,451.5 734.0,453.1 735.6,451.3 737.2,452.6 738.8,451.6 740.4,453.1 742.0,451.5 743.6,453.0 745.2,451.3 746.8,452.9 748.4,451.3 750.0,452.9 751.6,451.6 753.2,452.7 754.8,451.1 756.4,452.5 758.0,451.3 759.6,453.0 761.2,451.6 762.8,452.5 764.4,451.5 766.0,452.7 767.6,451.4 769.2,452.7 770.8,451.1 772.4,452.5 774.0,451.1 775.6,452.5 777.2,451.1 778.8,452.6 780.4,451.2 782.0,452.4 783.6,451.3" fill="none" stroke="#ff0000" stroke-width="3.5" stroke-linejoin="round" stroke-linecap="round"/>
<use href="#mr" x="259.0" y="67.5"/>
<use href="#mr" x="260.0" y="310.7"/>
<use href="#mr" x="261.3" y="351.2"/>
<use href="#mr" x="262.0" y="374.1"/>
<use href="#mr" x="262.7" y="385.0"/>
<use href="#mr" x="263.3" y="393.3"/>
<use href="#mr" x="264.0" y="399.4"/>
<use href="#mr" x="264.8" y="405.6"/>
<use href="#mr" x="265.6" y="411.0"/>
<use href="#mr" x="266.5" y="415.1"/>
<use href="#mr" x="267.5" y="418.5"/>
<use href="#mr" x="268.7" y="420.5"/>
<use href="#mr" x="270.0" y="423.1"/>
<use href="#mr" x="271.6" y="420.0"/>
<use href="#mr" x="273.2" y="425.8"/>
<use href="#mr" x="274.8" y="420.6"/>
<use href="#mr" x="276.4" y="425.7"/>
<use href="#mr" x="278.0" y="422.7"/>
<use href="#mr" x="279.6" y="428.6"/>
<use href="#mr" x="281.2" y="425.5"/>
<use href="#mr" x="282.8" y="431.3"/>
<use href="#mr" x="284.4" y="427.5"/>
<use href="#mr" x="286.0" y="432.3"/>
<use href="#mr" x="287.6" y="428.3"/>
<use href="#mr" x="289.2" y="434.1"/>
<use href="#mr" x="290.8" y="429.8"/>
<use href="#mr" x="292.4" y="436.3"/>
<use href="#mr" x="294.0" y="430.4"/>
<use href="#mr" x="295.6" y="436.6"/>
<use href="#mr" x="297.2" y="432.3"/>
<use href="#mr" x="298.8" y="438.6"/>
<use href="#mr" x="300.4" y="434.1"/>
<use href="#mr" x="302.0" y="438.1"/>
<use href="#mr" x="303.6" y="433.6"/>
<use href="#mr" x="305.2" y="439.7"/>
<use href="#mr" x="306.8" y="435.9"/>
<use href="#mr" x="308.4" y="441.7"/>
<use href="#mr" x="310.0" y="436.0"/>
<use href="#mr" x="311.6" y="441.5"/>
<use href="#mr" x="313.2" y="436.2"/>
<use href="#mr" x="314.8" y="441.1"/>
<use href="#mr" x="316.4" y="436.9"/>
<use href="#mr" x="318.0" y="442.3"/>
<use href="#mr" x="319.6" y="438.7"/>
<use href="#mr" x="321.2" y="443.4"/>
<use href="#mr" x="322.8" y="437.3"/>
<use href="#mr" x="324.4" y="442.8"/>
<use href="#mr" x="326.0" y="438.4"/>
<use href="#mr" x="327.6" y="443.5"/>
<use href="#mr" x="329.2" y="438.6"/>
<use href="#mr" x="330.8" y="444.8"/>
<use href="#mr" x="332.4" y="440.1"/>
<use href="#mr" x="334.0" y="445.4"/>
<use href="#mr" x="335.6" y="439.5"/>
<use href="#mr" x="337.2" y="445.5"/>
<use href="#mr" x="338.8" y="439.5"/>
<use href="#mr" x="340.4" y="445.3"/>
<use href="#mr" x="342.0" y="440.1"/>
<use href="#mr" x="343.6" y="446.8"/>
<use href="#mr" x="345.2" y="442.0"/>
<use href="#mr" x="346.8" y="447.3"/>
<use href="#mr" x="348.4" y="442.0"/>
<use href="#mr" x="350.0" y="447.0"/>
<use href="#mr" x="351.6" y="443.1"/>
<use href="#mr" x="353.2" y="448.1"/>
<use href="#mr" x="354.8" y="443.4"/>
<use href="#mr" x="356.4" y="449.1"/>
<use href="#mr" x="358.0" y="444.0"/>
<use href="#mr" x="359.6" y="449.1"/>
<use href="#mr" x="361.2" y="444.4"/>
<use href="#mr" x="362.8" y="449.8"/>
<use href="#mr" x="364.4" y="445.6"/>
<use href="#mr" x="366.0" y="449.6"/>
<use href="#mr" x="367.6" y="445.2"/>
<use href="#mr" x="369.2" y="451.7"/>
<use href="#mr" x="370.8" y="446.5"/>
<use href="#mr" x="372.4" y="453.0"/>
<use href="#mr" x="374.0" y="448.2"/>
<use href="#mr" x="375.6" y="453.8"/>
<use href="#mr" x="377.2" y="449.2"/>
<use href="#mr" x="378.8" y="454.9"/>
<use href="#mr" x="380.4" y="449.7"/>
<use href="#mr" x="382.0" y="453.9"/>
<use href="#mr" x="383.6" y="449.8"/>
<use href="#mr" x="385.2" y="454.8"/>
<use href="#mr" x="386.8" y="450.7"/>
<use href="#mr" x="388.4" y="454.2"/>
<use href="#mr" x="390.0" y="451.8"/>
<use href="#mr" x="391.6" y="454.7"/>
<use href="#mr" x="393.2" y="452.5"/>
<use href="#mr" x="394.8" y="455.3"/>
<use href="#mr" x="396.4" y="451.9"/>
<use href="#mr" x="398.0" y="455.5"/>
<use href="#mr" x="399.6" y="453.0"/>
<use href="#mr" x="401.2" y="456.4"/>
<use href="#mr" x="402.8" y="452.5"/>
<use href="#mr" x="404.4" y="457.4"/>
<use href="#mr" x="406.0" y="453.0"/>
<use href="#mr" x="407.6" y="456.5"/>
<use href="#mr" x="409.2" y="453.5"/>
<use href="#mr" x="410.8" y="457.5"/>
<use href="#mr" x="412.4" y="454.4"/>
<use href="#mr" x="414.0" y="457.5"/>
<use href="#mr" x="415.6" y="453.9"/>
<use href="#mr" x="417.2" y="457.3"/>
<use href="#mr" x="418.8" y="453.4"/>
<use href="#mr" x="420.4" y="457.2"/>
<use href="#mr" x="422.0" y="453.3"/>
<use href="#mr" x="423.6" y="456.7"/>
<use href="#mr" x="425.2" y="453.3"/>
<use href="#mr" x="426.8" y="456.1"/>
<use href="#mr" x="428.4" y="452.9"/>
<use href="#mr" x="430.0" y="455.6"/>
<use href="#mr" x="431.6" y="451.8"/>
<use href="#mr" x="433.2" y="455.5"/>
<use href="#mr" x="434.8" y="451.4"/>
<use href="#mr" x="436.4" y="453.8"/>
<use href="#mr" x="438.0" y="450.7"/>
<use href="#mr" x="439.6" y="453.6"/>
<use href="#mr" x="441.2" y="450.0"/>
<use href="#mr" x="442.8" y="453.5"/>
<use href="#mr" x="444.4" y="450.2"/>
<use href="#mr" x="446.0" y="453.9"/>
<use href="#mr" x="447.6" y="449.8"/>
<use href="#mr" x="449.2" y="452.7"/>
<use href="#mr" x="450.8" y="450.4"/>
<use href="#mr" x="452.4" y="451.5"/>
<use href="#mr" x="454.0" y="450.2"/>
<use href="#mr" x="455.6" y="451.2"/>
<use href="#mr" x="457.2" y="449.4"/>
<use href="#mr" x="458.8" y="450.9"/>
<use href="#mr" x="460.4" y="449.2"/>
<use href="#mr" x="462.0" y="450.9"/>
<use href="#mr" x="463.6" y="448.9"/>
<use href="#mr" x="465.2" y="450.5"/>
<use href="#mr" x="466.8" y="448.7"/>
<use href="#mr" x="468.4" y="450.4"/>
<use href="#mr" x="470.0" y="448.9"/>
<use href="#mr" x="471.6" y="450.2"/>
<use href="#mr" x="473.2" y="448.8"/>
<use href="#mr" x="474.8" y="450.0"/>
<use href="#mr" x="476.4" y="448.6"/>
<use href="#mr" x="478.0" y="449.9"/>
<use href="#mr" x="479.6" y="448.5"/>
<use href="#mr" x="481.2" y="450.0"/>
<use href="#mr" x="482.8" y="448.8"/>
<use href="#mr" x="484.4" y="449.9"/>
<use href="#mr" x="486.0" y="448.6"/>
<use href="#mr" x="487.6" y="450.0"/>
<use href="#mr" x="489.2" y="448.7"/>
<use href="#mr" x="490.8" y="449.6"/>
<use href="#mr" x="492.4" y="448.4"/>
<use href="#mr" x="494.0" y="449.7"/>
<use href="#mr" x="495.6" y="448.3"/>
<use href="#mr" x="497.2" y="449.7"/>
<use href="#mr" x="498.8" y="448.5"/>
<use href="#mr" x="500.4" y="450.0"/>
<use href="#mr" x="502.0" y="448.5"/>
<use href="#mr" x="503.6" y="449.5"/>
<use href="#mr" x="505.2" y="448.4"/>
<use href="#mr" x="506.8" y="449.6"/>
<use href="#mr" x="508.4" y="448.5"/>
<use href="#mr" x="510.0" y="449.7"/>
<use href="#mr" x="511.6" y="448.0"/>
<use href="#mr" x="513.2" y="449.5"/>
<use href="#mr" x="514.8" y="448.4"/>
<use href="#mr" x="516.4" y="449.8"/>
<use href="#mr" x="518.0" y="448.1"/>
<use href="#mr" x="519.6" y="450.0"/>
<use href="#mr" x="521.2" y="448.5"/>
<use href="#mr" x="522.8" y="449.7"/>
<use href="#mr" x="524.4" y="448.1"/>
<use href="#mr" x="526.0" y="449.4"/>
<use href="#mr" x="527.6" y="448.2"/>
<use href="#mr" x="529.2" y="449.5"/>
<use href="#mr" x="530.8" y="448.1"/>
<use href="#mr" x="532.4" y="450.0"/>
<use href="#mr" x="534.0" y="448.3"/>
<use href="#mr" x="535.6" y="449.4"/>
<use href="#mr" x="537.2" y="448.6"/>
<use href="#mr" x="538.8" y="449.6"/>
<use href="#mr" x="540.4" y="448.1"/>
<use href="#mr" x="542.0" y="449.5"/>
<use href="#mr" x="543.6" y="448.2"/>
<use href="#mr" x="545.2" y="449.6"/>
<use href="#mr" x="546.8" y="448.4"/>
<use href="#mr" x="548.4" y="449.8"/>
<use href="#mr" x="550.0" y="448.4"/>
<use href="#mr" x="551.6" y="449.6"/>
<use href="#mr" x="553.2" y="448.2"/>
<use href="#mr" x="554.8" y="449.7"/>
<use href="#mr" x="556.4" y="448.2"/>
<use href="#mr" x="558.0" y="449.8"/>
<use href="#mr" x="559.6" y="448.7"/>
<use href="#mr" x="561.2" y="449.9"/>
<use href="#mr" x="562.8" y="448.3"/>
<use href="#mr" x="564.4" y="450.1"/>
<use href="#mr" x="566.0" y="448.4"/>
<use href="#mr" x="567.6" y="449.9"/>
<use href="#mr" x="569.2" y="448.9"/>
<use href="#mr" x="570.8" y="450.5"/>
<use href="#mr" x="572.4" y="448.9"/>
<use href="#mr" x="574.0" y="450.5"/>
<use href="#mr" x="575.6" y="449.1"/>
<use href="#mr" x="577.2" y="450.9"/>
<use href="#mr" x="578.8" y="449.2"/>
<use href="#mr" x="580.4" y="450.9"/>
<use href="#mr" x="582.0" y="449.5"/>
<use href="#mr" x="583.6" y="451.1"/>
<use href="#mr" x="585.2" y="449.8"/>
<use href="#mr" x="586.8" y="451.3"/>
<use href="#mr" x="588.4" y="449.8"/>
<use href="#mr" x="590.0" y="451.5"/>
<use href="#mr" x="591.6" y="450.0"/>
<use href="#mr" x="593.2" y="451.2"/>
<use href="#mr" x="594.8" y="450.1"/>
<use href="#mr" x="596.4" y="451.8"/>
<use href="#mr" x="598.0" y="450.2"/>
<use href="#mr" x="599.6" y="451.8"/>
<use href="#mr" x="601.2" y="450.4"/>
<use href="#mr" x="602.8" y="451.7"/>
<use href="#mr" x="604.4" y="450.3"/>
<use href="#mr" x="606.0" y="451.6"/>
<use href="#mr" x="607.6" y="450.3"/>
<use href="#mr" x="609.2" y="452.2"/>
<use href="#mr" x="610.8" y="450.3"/>
<use href="#mr" x="612.4" y="451.8"/>
<use href="#mr" x="614.0" y="450.9"/>
<use href="#mr" x="615.6" y="452.3"/>
<use href="#mr" x="617.2" y="450.8"/>
<use href="#mr" x="618.8" y="452.0"/>
<use href="#mr" x="620.4" y="450.9"/>
<use href="#mr" x="622.0" y="452.4"/>
<use href="#mr" x="623.6" y="451.1"/>
<use href="#mr" x="625.2" y="452.3"/>
<use href="#mr" x="626.8" y="450.9"/>
<use href="#mr" x="628.4" y="452.5"/>
<use href="#mr" x="630.0" y="451.3"/>
<use href="#mr" x="631.6" y="452.6"/>
<use href="#mr" x="633.2" y="451.1"/>
<use href="#mr" x="634.8" y="452.5"/>
<use href="#mr" x="636.4" y="451.1"/>
<use href="#mr" x="638.0" y="452.4"/>
<use href="#mr" x="639.6" y="451.0"/>
<use href="#mr" x="641.2" y="452.4"/>
<use href="#mr" x="642.8" y="451.2"/>
<use href="#mr" x="644.4" y="452.5"/>
<use href="#mr" x="646.0" y="451.2"/>
<use href="#mr" x="647.6" y="452.9"/>
<use href="#mr" x="649.2" y="451.1"/>
<use href="#mr" x="650.8" y="452.5"/>
<use href="#mr" x="652.4" y="451.2"/>
<use href="#mr" x="654.0" y="453.0"/>
<use href="#mr" x="655.6" y="451.5"/>
<use href="#mr" x="657.2" y="452.7"/>
<use href="#mr" x="658.8" y="451.2"/>
<use href="#mr" x="660.4" y="452.9"/>
<use href="#mr" x="662.0" y="451.4"/>
<use href="#mr" x="663.6" y="452.9"/>
<use href="#mr" x="665.2" y="451.3"/>
<use href="#mr" x="666.8" y="452.7"/>
<use href="#mr" x="668.4" y="451.3"/>
<use href="#mr" x="670.0" y="452.9"/>
<use href="#mr" x="671.6" y="451.3"/>
<use href="#mr" x="673.2" y="452.8"/>
<use href="#mr" x="674.8" y="451.5"/>
<use href="#mr" x="676.4" y="452.8"/>
<use href="#mr" x="678.0" y="451.2"/>
<use href="#mr" x="679.6" y="452.7"/>
<use href="#mr" x="681.2" y="451.7"/>
<use href="#mr" x="682.8" y="452.6"/>
<use href="#mr" x="684.4" y="451.3"/>
<use href="#mr" x="686.0" y="453.2"/>
<use href="#mr" x="687.6" y="451.6"/>
<use href="#mr" x="689.2" y="452.7"/>
<use href="#mr" x="690.8" y="451.7"/>
<use href="#mr" x="692.4" y="453.0"/>
<use href="#mr" x="694.0" y="451.5"/>
<use href="#mr" x="695.6" y="453.1"/>
<use href="#mr" x="697.2" y="451.7"/>
<use href="#mr" x="698.8" y="453.1"/>
<use href="#mr" x="700.4" y="451.5"/>
<use href="#mr" x="702.0" y="453.1"/>
<use href="#mr" x="703.6" y="451.3"/>
<use href="#mr" x="705.2" y="453.1"/>
<use href="#mr" x="706.8" y="451.5"/>
<use href="#mr" x="708.4" y="453.0"/>
<use href="#mr" x="710.0" y="451.5"/>
<use href="#mr" x="711.6" y="452.7"/>
<use href="#mr" x="713.2" y="451.5"/>
<use href="#mr" x="714.8" y="453.2"/>
<use href="#mr" x="716.4" y="451.3"/>
<use href="#mr" x="718.0" y="452.6"/>
<use href="#mr" x="719.6" y="451.4"/>
<use href="#mr" x="721.2" y="452.8"/>
<use href="#mr" x="722.8" y="451.7"/>
<use href="#mr" x="724.4" y="452.7"/>
<use href="#mr" x="726.0" y="451.3"/>
<use href="#mr" x="727.6" y="453.2"/>
<use href="#mr" x="729.2" y="451.5"/>
<use href="#mr" x="730.8" y="452.8"/>
<use href="#mr" x="732.4" y="451.5"/>
<use href="#mr" x="734.0" y="453.1"/>
<use href="#mr" x="735.6" y="451.3"/>
<use href="#mr" x="737.2" y="452.6"/>
<use href="#mr" x="738.8" y="451.6"/>
<use href="#mr" x="740.4" y="453.1"/>
<use href="#mr" x="742.0" y="451.5"/>
<use href="#mr" x="743.6" y="453.0"/>
<use href="#mr" x="745.2" y="451.3"/>
<use href="#mr" x="746.8" y="452.9"/>
<use href="#mr" x="748.4" y="451.3"/>
<use href="#mr" x="750.0" y="452.9"/>
<use href="#mr" x="751.6" y="451.6"/>
<use href="#mr" x="753.2" y="452.7"/>
<use href="#mr" x="754.8" y="451.1"/>
<use href="#mr" x="756.4" y="452.5"/>
<use href="#mr" x="758.0" y="451.3"/>
<use href="#mr" x="759.6" y="453.0"/>
<use href="#mr" x="761.2" y="451.6"/>
<use href="#mr" x="762.8" y="452.5"/>
<use href="#mr" x="764.4" y="451.5"/>
<use href="#mr" x="766.0" y="452.7"/>
<use href="#mr" x="767.6" y="451.4"/>
<use href="#mr" x="769.2" y="452.7"/>
<use href="#mr" x="770.8" y="451.1"/>
<use href="#mr" x="772.4" y="452.5"/>
<use href="#mr" x="774.0" y="451.1"/>
<use href="#mr" x="775.6" y="452.5"/>
<use href="#mr" x="777.2" y="451.1"/>
<use href="#mr" x="778.8" y="452.6"/>
<use href="#mr" x="780.4" y="451.2"/>
<use href="#mr" x="782.0" y="452.4"/>
<use href="#mr" x="783.6" y="451.3"/>
</g>
<line x1="253.60" y1="31.40" x2="783.90" y2="31.40" stroke="#000" stroke-width="2.4"/>
<line x1="253.60" y1="30.20" x2="253.60" y2="462.20" stroke="#000" stroke-width="2.3"/>
<line x1="783.90" y1="30.20" x2="783.90" y2="462.20" stroke="#000" stroke-width="2.2"/>
<line x1="252.50" y1="461.00" x2="785.00" y2="461.00" stroke="#000" stroke-width="2.3"/>
<line x1="245.00" y1="457.70" x2="253.60" y2="457.70" stroke="#000" stroke-width="1.8"/>
<line x1="249.50" y1="415.10" x2="253.60" y2="415.10" stroke="#000" stroke-width="1.6"/>
<line x1="245.00" y1="372.50" x2="253.60" y2="372.50" stroke="#000" stroke-width="1.8"/>
<line x1="249.50" y1="329.90" x2="253.60" y2="329.90" stroke="#000" stroke-width="1.6"/>
<line x1="245.00" y1="287.30" x2="253.60" y2="287.30" stroke="#000" stroke-width="1.8"/>
<line x1="249.50" y1="244.70" x2="253.60" y2="244.70" stroke="#000" stroke-width="1.6"/>
<line x1="245.00" y1="202.10" x2="253.60" y2="202.10" stroke="#000" stroke-width="1.8"/>
<line x1="249.50" y1="159.50" x2="253.60" y2="159.50" stroke="#000" stroke-width="1.6"/>
<line x1="245.00" y1="116.90" x2="253.60" y2="116.90" stroke="#000" stroke-width="1.8"/>
<line x1="249.50" y1="74.30" x2="253.60" y2="74.30" stroke="#000" stroke-width="1.6"/>
<line x1="245.00" y1="31.70" x2="253.60" y2="31.70" stroke="#000" stroke-width="1.8"/>
<text x="239.50" y="464.60" font-size="19.5" text-anchor="end" font-weight="bold" >0</text>
<text x="239.50" y="379.40" font-size="19.5" text-anchor="end" font-weight="bold" >5</text>
<text x="239.50" y="294.20" font-size="19.5" text-anchor="end" font-weight="bold" >10</text>
<text x="239.50" y="209.00" font-size="19.5" text-anchor="end" font-weight="bold" >15</text>
<text x="239.50" y="123.80" font-size="19.5" text-anchor="end" font-weight="bold" >20</text>
<text x="239.50" y="38.60" font-size="19.5" text-anchor="end" font-weight="bold" >25</text>
<line x1="258.90" y1="461.00" x2="258.90" y2="469.00" stroke="#000" stroke-width="2"/>
<line x1="311.40" y1="461.00" x2="311.40" y2="465.50" stroke="#000" stroke-width="1.8"/>
<line x1="363.90" y1="461.00" x2="363.90" y2="469.00" stroke="#000" stroke-width="2"/>
<line x1="416.40" y1="461.00" x2="416.40" y2="465.50" stroke="#000" stroke-width="1.8"/>
<line x1="468.90" y1="461.00" x2="468.90" y2="469.00" stroke="#000" stroke-width="2"/>
<line x1="521.40" y1="461.00" x2="521.40" y2="465.50" stroke="#000" stroke-width="1.8"/>
<line x1="573.90" y1="461.00" x2="573.90" y2="469.00" stroke="#000" stroke-width="2"/>
<line x1="626.40" y1="461.00" x2="626.40" y2="465.50" stroke="#000" stroke-width="1.8"/>
<line x1="678.90" y1="461.00" x2="678.90" y2="469.00" stroke="#000" stroke-width="2"/>
<line x1="731.40" y1="461.00" x2="731.40" y2="465.50" stroke="#000" stroke-width="1.8"/>
<line x1="783.90" y1="461.00" x2="783.90" y2="469.00" stroke="#000" stroke-width="2"/>
<text x="258.90" y="492.00" font-size="19.5" text-anchor="middle" font-weight="bold" >0.0</text>
<text x="363.90" y="492.00" font-size="19.5" text-anchor="middle" font-weight="bold" >200.0k</text>
<text x="468.90" y="492.00" font-size="19.5" text-anchor="middle" font-weight="bold" >400.0k</text>
<text x="573.90" y="492.00" font-size="19.5" text-anchor="middle" font-weight="bold" >600.0k</text>
<text x="678.90" y="492.00" font-size="19.5" text-anchor="middle" font-weight="bold" >800.0k</text>
<text x="783.90" y="492.00" font-size="19.5" text-anchor="middle" font-weight="bold" >1.0M</text>
<text x="518.30" y="513.50" font-size="22" text-anchor="middle" font-weight="bold" >Frequency (Hz)</text>
<text transform="translate(214.5,245.5) rotate(-90)" font-size="21" text-anchor="middle" font-weight="bold">tan <tspan font-weight="normal">(δ)</tspan></text>
<line x1="568.00" y1="51.70" x2="617.50" y2="51.70" stroke="#000" stroke-width="5" stroke-linecap="round"/>
<use href="#lk" x="592.8" y="52"/>
<text x="624.20" y="59.40" font-size="22" text-anchor="start" font-weight="bold" >Cu<tspan font-size="15.8" dy="5.8">2</tspan><tspan dy="-5.8">O/TiO</tspan><tspan font-size="15.8" dy="5.8">2</tspan><tspan dy="-5.8"> RT</tspan></text>
<line x1="568.00" y1="84.40" x2="617.50" y2="84.40" stroke="#ff0000" stroke-width="4.6" stroke-linecap="round"/>
<use href="#lr" x="592.8" y="84.6"/>
<text x="624.20" y="92.10" font-size="22" text-anchor="start" font-weight="bold" >Cu<tspan font-size="15.8" dy="5.8">2</tspan><tspan dy="-5.8">O/TiO</tspan><tspan font-size="15.8" dy="5.8">2</tspan><tspan dy="-5.8"> 100</tspan></text>
<line x1="477.00" y1="138.20" x2="547.00" y2="138.20" stroke="#0000f5" stroke-width="6" stroke-linecap="round"/>
<use href="#lb" x="512" y="138.2"/>
<text x="556.30" y="148.50" font-size="31.5" text-anchor="start" font-weight="bold" >Cu<tspan font-size="20.8" dy="9.7">2</tspan><tspan dy="-9.7">O/TiO</tspan><tspan font-size="20.8" dy="9.7">2</tspan><tspan dy="-9.7"> 150</tspan></text>
<line x1="477.00" y1="184.60" x2="547.00" y2="184.60" stroke="#0a800a" stroke-width="6" stroke-linecap="round"/>
<use href="#lg" x="512" y="184.6"/>
<text x="556.30" y="194.90" font-size="31.5" text-anchor="start" font-weight="bold" >Cu<tspan font-size="20.8" dy="9.7">2</tspan><tspan dy="-9.7">O/TiO</tspan><tspan font-size="20.8" dy="9.7">2</tspan><tspan dy="-9.7"> 200</tspan></text>
<line x1="477.00" y1="231.00" x2="547.00" y2="231.00" stroke="#ff00ff" stroke-width="6" stroke-linecap="round"/>
<use href="#lm" x="512" y="231"/>
<text x="556.30" y="241.30" font-size="31.5" text-anchor="start" font-weight="bold" >CuO/TiO<tspan font-size="20.8" dy="9.7">2</tspan><tspan dy="-9.7"> 250</tspan></text>
<g clip-path="url(#cB)">
<polyline points="962.1,601.6 966.6,600.6 971.1,599.5 975.6,598.3 980.1,597.1 984.6,595.8 989.1,594.5 993.6,593.1 998.1,591.7 1002.7,590.2 1007.2,588.7 1011.7,587.1 1016.2,585.5 1020.7,583.9 1025.2,582.2 1029.7,580.5 1034.2,578.7 1038.7,576.9 1043.2,575.1 1047.7,573.2 1052.2,571.3 1056.7,569.4 1061.2,567.4 1065.7,565.4 1070.2,563.4 1074.7,561.3 1079.2,559.2 1083.8,557.1 1088.3,555.0 1092.8,552.8 1097.3,550.6 1101.8,548.5 1106.3,546.2 1110.8,544.0 1115.3,541.8 1119.8,539.5 1124.3,537.2 1128.8,534.9 1133.3,532.6 1137.8,530.3 1142.3,528.0 1146.8,525.6 1151.3,523.3 1155.8,521.0 1160.3,518.6 1164.9,516.2 1169.4,513.9 1173.9,511.5 1178.4,509.2 1182.9,506.8 1187.4,504.5 1191.9,502.1 1196.4,499.8 1200.9,497.5 1205.4,495.1 1209.9,492.8 1214.4,490.5 1218.9,488.2 1223.4,485.9 1227.9,483.6 1232.4,481.3 1236.9,479.1 1241.4,476.8 1246.0,474.6 1250.5,472.4 1255.0,470.1 1259.5,467.9 1264.0,465.7 1268.5,463.5 1273.0,461.4 1277.5,459.2 1282.0,457.1 1286.5,454.9 1291.0,452.8 1295.5,450.7 1300.0,448.6 1304.5,446.6 1309.0,444.5 1313.5,442.5 1318.0,440.4 1322.5,438.4 1327.1,436.5 1331.6,434.5 1336.1,432.5 1340.6,430.6 1345.1,428.7 1349.6,426.8 1354.1,424.9 1358.6,423.1 1363.1,421.2 1367.6,419.4 1372.1,417.6 1376.6,415.8 1381.1,414.0 1385.6,412.3 1390.1,410.6 1394.6,408.9 1399.1,407.2 1403.7,405.5 1408.2,403.8 1412.7,402.2 1417.2,400.6 1421.7,399.0 1426.2,397.4 1430.7,395.8 1435.2,394.2 1439.7,392.7 1444.2,391.2 1448.7,389.7 1453.2,388.2 1457.7,386.7 1462.2,385.2 1466.7,383.8 1471.2,382.4 1475.7,380.9 1480.2,379.5 1484.8,378.1 1489.3,376.8 1493.8,375.4 1498.3,374.1 1502.8,372.7 1507.3,371.4 1511.8,370.1 1516.3,368.8 1520.8,367.5 1525.3,366.3 1529.8,365.0 1534.3,363.8 1538.8,362.5 1543.3,361.3 1547.8,360.1 1552.3,358.9 1556.8,357.7 1561.3,356.5 1565.9,355.4 1570.4,354.2 1574.9,353.1 1579.4,352.0 1583.9,350.9 1588.4,349.7 1592.9,348.7 1597.4,347.6 1601.9,346.5 1606.4,345.4 1610.9,344.4 1615.4,343.3 1619.9,342.3 1624.4,341.2 1628.9,340.2 1633.4,339.2 1637.9,338.2 1642.4,337.2 1647.0,336.2 1651.5,335.2 1656.0,334.3 1660.5,333.3 1665.0,332.3 1669.5,331.4 1674.0,330.5 1678.5,329.5 1683.0,328.6" fill="none" stroke="#0000f5" stroke-width="6" stroke-linejoin="round" stroke-linecap="round"/>
<use href="#mb2" x="962.1" y="601.6"/>
<use href="#mb2" x="966.6" y="600.6"/>
<use href="#mb2" x="971.1" y="599.5"/>
<use href="#mb2" x="975.6" y="598.3"/>
<use href="#mb2" x="980.1" y="597.1"/>
<use href="#mb2" x="984.6" y="595.8"/>
<use href="#mb2" x="989.1" y="594.5"/>
<use href="#mb2" x="993.6" y="593.1"/>
<use href="#mb2" x="998.1" y="591.7"/>
<use href="#mb2" x="1002.7" y="590.2"/>
<use href="#mb2" x="1007.2" y="588.7"/>
<use href="#mb2" x="1011.7" y="587.1"/>
<use href="#mb2" x="1016.2" y="585.5"/>
<use href="#mb2" x="1020.7" y="583.9"/>
<use href="#mb2" x="1025.2" y="582.2"/>
<use href="#mb2" x="1029.7" y="580.5"/>
<use href="#mb2" x="1034.2" y="578.7"/>
<use href="#mb2" x="1038.7" y="576.9"/>
<use href="#mb2" x="1043.2" y="575.1"/>
<use href="#mb2" x="1047.7" y="573.2"/>
<use href="#mb2" x="1052.2" y="571.3"/>
<use href="#mb2" x="1056.7" y="569.4"/>
<use href="#mb2" x="1061.2" y="567.4"/>
<use href="#mb2" x="1065.7" y="565.4"/>
<use href="#mb2" x="1070.2" y="563.4"/>
<use href="#mb2" x="1074.7" y="561.3"/>
<use href="#mb2" x="1079.2" y="559.2"/>
<use href="#mb2" x="1083.8" y="557.1"/>
<use href="#mb2" x="1088.3" y="555.0"/>
<use href="#mb2" x="1092.8" y="552.8"/>
<use href="#mb2" x="1097.3" y="550.6"/>
<use href="#mb2" x="1101.8" y="548.5"/>
<use href="#mb2" x="1106.3" y="546.2"/>
<use href="#mb2" x="1110.8" y="544.0"/>
<use href="#mb2" x="1115.3" y="541.8"/>
<use href="#mb2" x="1119.8" y="539.5"/>
<use href="#mb2" x="1124.3" y="537.2"/>
<use href="#mb2" x="1128.8" y="534.9"/>
<use href="#mb2" x="1133.3" y="532.6"/>
<use href="#mb2" x="1137.8" y="530.3"/>
<use href="#mb2" x="1142.3" y="528.0"/>
<use href="#mb2" x="1146.8" y="525.6"/>
<use href="#mb2" x="1151.3" y="523.3"/>
<use href="#mb2" x="1155.8" y="521.0"/>
<use href="#mb2" x="1160.3" y="518.6"/>
<use href="#mb2" x="1164.9" y="516.2"/>
<use href="#mb2" x="1169.4" y="513.9"/>
<use href="#mb2" x="1173.9" y="511.5"/>
<use href="#mb2" x="1178.4" y="509.2"/>
<use href="#mb2" x="1182.9" y="506.8"/>
<use href="#mb2" x="1187.4" y="504.5"/>
<use href="#mb2" x="1191.9" y="502.1"/>
<use href="#mb2" x="1196.4" y="499.8"/>
<use href="#mb2" x="1200.9" y="497.5"/>
<use href="#mb2" x="1205.4" y="495.1"/>
<use href="#mb2" x="1209.9" y="492.8"/>
<use href="#mb2" x="1214.4" y="490.5"/>
<use href="#mb2" x="1218.9" y="488.2"/>
<use href="#mb2" x="1223.4" y="485.9"/>
<use href="#mb2" x="1227.9" y="483.6"/>
<use href="#mb2" x="1232.4" y="481.3"/>
<use href="#mb2" x="1236.9" y="479.1"/>
<use href="#mb2" x="1241.4" y="476.8"/>
<use href="#mb2" x="1246.0" y="474.6"/>
<use href="#mb2" x="1250.5" y="472.4"/>
<use href="#mb2" x="1255.0" y="470.1"/>
<use href="#mb2" x="1259.5" y="467.9"/>
<use href="#mb2" x="1264.0" y="465.7"/>
<use href="#mb2" x="1268.5" y="463.5"/>
<use href="#mb2" x="1273.0" y="461.4"/>
<use href="#mb2" x="1277.5" y="459.2"/>
<use href="#mb2" x="1282.0" y="457.1"/>
<use href="#mb2" x="1286.5" y="454.9"/>
<use href="#mb2" x="1291.0" y="452.8"/>
<use href="#mb2" x="1295.5" y="450.7"/>
<use href="#mb2" x="1300.0" y="448.6"/>
<use href="#mb2" x="1304.5" y="446.6"/>
<use href="#mb2" x="1309.0" y="444.5"/>
<use href="#mb2" x="1313.5" y="442.5"/>
<use href="#mb2" x="1318.0" y="440.4"/>
<use href="#mb2" x="1322.5" y="438.4"/>
<use href="#mb2" x="1327.1" y="436.5"/>
<use href="#mb2" x="1331.6" y="434.5"/>
<use href="#mb2" x="1336.1" y="432.5"/>
<use href="#mb2" x="1340.6" y="430.6"/>
<use href="#mb2" x="1345.1" y="428.7"/>
<use href="#mb2" x="1349.6" y="426.8"/>
<use href="#mb2" x="1354.1" y="424.9"/>
<use href="#mb2" x="1358.6" y="423.1"/>
<use href="#mb2" x="1363.1" y="421.2"/>
<use href="#mb2" x="1367.6" y="419.4"/>
<use href="#mb2" x="1372.1" y="417.6"/>
<use href="#mb2" x="1376.6" y="415.8"/>
<use href="#mb2" x="1381.1" y="414.0"/>
<use href="#mb2" x="1385.6" y="412.3"/>
<use href="#mb2" x="1390.1" y="410.6"/>
<use href="#mb2" x="1394.6" y="408.9"/>
<use href="#mb2" x="1399.1" y="407.2"/>
<use href="#mb2" x="1403.7" y="405.5"/>
<use href="#mb2" x="1408.2" y="403.8"/>
<use href="#mb2" x="1412.7" y="402.2"/>
<use href="#mb2" x="1417.2" y="400.6"/>
<use href="#mb2" x="1421.7" y="399.0"/>
<use href="#mb2" x="1426.2" y="397.4"/>
<use href="#mb2" x="1430.7" y="395.8"/>
<use href="#mb2" x="1435.2" y="394.2"/>
<use href="#mb2" x="1439.7" y="392.7"/>
<use href="#mb2" x="1444.2" y="391.2"/>
<use href="#mb2" x="1448.7" y="389.7"/>
<use href="#mb2" x="1453.2" y="388.2"/>
<use href="#mb2" x="1457.7" y="386.7"/>
<use href="#mb2" x="1462.2" y="385.2"/>
<use href="#mb2" x="1466.7" y="383.8"/>
<use href="#mb2" x="1471.2" y="382.4"/>
<use href="#mb2" x="1475.7" y="380.9"/>
<use href="#mb2" x="1480.2" y="379.5"/>
<use href="#mb2" x="1484.8" y="378.1"/>
<use href="#mb2" x="1489.3" y="376.8"/>
<use href="#mb2" x="1493.8" y="375.4"/>
<use href="#mb2" x="1498.3" y="374.1"/>
<use href="#mb2" x="1502.8" y="372.7"/>
<use href="#mb2" x="1507.3" y="371.4"/>
<use href="#mb2" x="1511.8" y="370.1"/>
<use href="#mb2" x="1516.3" y="368.8"/>
<use href="#mb2" x="1520.8" y="367.5"/>
<use href="#mb2" x="1525.3" y="366.3"/>
<use href="#mb2" x="1529.8" y="365.0"/>
<use href="#mb2" x="1534.3" y="363.8"/>
<use href="#mb2" x="1538.8" y="362.5"/>
<use href="#mb2" x="1543.3" y="361.3"/>
<use href="#mb2" x="1547.8" y="360.1"/>
<use href="#mb2" x="1552.3" y="358.9"/>
<use href="#mb2" x="1556.8" y="357.7"/>
<use href="#mb2" x="1561.3" y="356.5"/>
<use href="#mb2" x="1565.9" y="355.4"/>
<use href="#mb2" x="1570.4" y="354.2"/>
<use href="#mb2" x="1574.9" y="353.1"/>
<use href="#mb2" x="1579.4" y="352.0"/>
<use href="#mb2" x="1583.9" y="350.9"/>
<use href="#mb2" x="1588.4" y="349.7"/>
<use href="#mb2" x="1592.9" y="348.7"/>
<use href="#mb2" x="1597.4" y="347.6"/>
<use href="#mb2" x="1601.9" y="346.5"/>
<use href="#mb2" x="1606.4" y="345.4"/>
<use href="#mb2" x="1610.9" y="344.4"/>
<use href="#mb2" x="1615.4" y="343.3"/>
<use href="#mb2" x="1619.9" y="342.3"/>
<use href="#mb2" x="1624.4" y="341.2"/>
<use href="#mb2" x="1628.9" y="340.2"/>
<use href="#mb2" x="1633.4" y="339.2"/>
<use href="#mb2" x="1637.9" y="338.2"/>
<use href="#mb2" x="1642.4" y="337.2"/>
<use href="#mb2" x="1647.0" y="336.2"/>
<use href="#mb2" x="1651.5" y="335.2"/>
<use href="#mb2" x="1656.0" y="334.3"/>
<use href="#mb2" x="1660.5" y="333.3"/>
<use href="#mb2" x="1665.0" y="332.3"/>
<use href="#mb2" x="1669.5" y="331.4"/>
<use href="#mb2" x="1674.0" y="330.5"/>
<use href="#mb2" x="1678.5" y="329.5"/>
<use href="#mb2" x="1683.0" y="328.6"/>
<polyline points="962.1,599.7 966.6,599.9 971.1,599.8 975.6,599.7 980.1,599.3 984.6,598.9 989.1,598.3 993.6,597.5 998.1,596.7 1002.7,595.8 1007.2,594.7 1011.7,593.6 1016.2,592.4 1020.7,591.1 1025.2,589.7 1029.7,588.3 1034.2,586.8 1038.7,585.3 1043.2,583.8 1047.7,582.2 1052.2,580.6 1056.7,578.9 1061.2,577.2 1065.7,575.4 1070.2,573.7 1074.7,571.9 1079.2,570.0 1083.8,568.2 1088.3,566.3 1092.8,564.4 1097.3,562.4 1101.8,560.5 1106.3,558.5 1110.8,556.5 1115.3,554.6 1119.8,552.6 1124.3,550.5 1128.8,548.5 1133.3,546.5 1137.8,544.5 1142.3,542.4 1146.8,540.4 1151.3,538.4 1155.8,536.4 1160.3,534.4 1164.9,532.3 1169.4,530.3 1173.9,528.3 1178.4,526.3 1182.9,524.3 1187.4,522.3 1191.9,520.3 1196.4,518.3 1200.9,516.4 1205.4,514.4 1209.9,512.4 1214.4,510.5 1218.9,508.6 1223.4,506.6 1227.9,504.7 1232.4,502.8 1236.9,500.9 1241.4,499.0 1246.0,497.1 1250.5,495.3 1255.0,493.4 1259.5,491.6 1264.0,489.8 1268.5,488.0 1273.0,486.2 1277.5,484.4 1282.0,482.7 1286.5,480.9 1291.0,479.2 1295.5,477.5 1300.0,475.8 1304.5,474.2 1309.0,472.5 1313.5,470.9 1318.0,469.3 1322.5,467.7 1327.1,466.2 1331.6,464.6 1336.1,463.1 1340.6,461.6 1345.1,460.1 1349.6,458.7 1354.1,457.2 1358.6,455.8 1363.1,454.4 1367.6,453.0 1372.1,451.6 1376.6,450.2 1381.1,448.9 1385.6,447.6 1390.1,446.3 1394.6,445.0 1399.1,443.7 1403.7,442.5 1408.2,441.2 1412.7,440.0 1417.2,438.8 1421.7,437.6 1426.2,436.4 1430.7,435.3 1435.2,434.1 1439.7,433.0 1444.2,431.9 1448.7,430.8 1453.2,429.7 1457.7,428.7 1462.2,427.6 1466.7,426.6 1471.2,425.6 1475.7,424.6 1480.2,423.6 1484.8,422.6 1489.3,421.6 1493.8,420.7 1498.3,419.7 1502.8,418.8 1507.3,417.9 1511.8,417.0 1516.3,416.1 1520.8,415.2 1525.3,414.4 1529.8,413.5 1534.3,412.7 1538.8,411.8 1543.3,411.0 1547.8,410.2 1552.3,409.4 1556.8,408.7 1561.3,407.9 1565.9,407.1 1570.4,406.4 1574.9,405.7 1579.4,404.9 1583.9,404.2 1588.4,403.5 1592.9,402.8 1597.4,402.1 1601.9,401.5 1606.4,400.8 1610.9,400.1 1615.4,399.5 1619.9,398.8 1624.4,398.2 1628.9,397.6 1633.4,397.0 1637.9,396.4 1642.4,395.8 1647.0,395.2 1651.5,394.6 1656.0,394.0 1660.5,393.5 1665.0,392.9 1669.5,392.4 1674.0,391.8 1678.5,391.3 1683.0,390.8" fill="none" stroke="#0a800a" stroke-width="6" stroke-linejoin="round" stroke-linecap="round"/>
<use href="#mg" x="962.1" y="599.7"/>
<use href="#mg" x="966.6" y="599.9"/>
<use href="#mg" x="971.1" y="599.8"/>
<use href="#mg" x="975.6" y="599.7"/>
<use href="#mg" x="980.1" y="599.3"/>
<use href="#mg" x="984.6" y="598.9"/>
<use href="#mg" x="989.1" y="598.3"/>
<use href="#mg" x="993.6" y="597.5"/>
<use href="#mg" x="998.1" y="596.7"/>
<use href="#mg" x="1002.7" y="595.8"/>
<use href="#mg" x="1007.2" y="594.7"/>
<use href="#mg" x="1011.7" y="593.6"/>
<use href="#mg" x="1016.2" y="592.4"/>
<use href="#mg" x="1020.7" y="591.1"/>
<use href="#mg" x="1025.2" y="589.7"/>
<use href="#mg" x="1029.7" y="588.3"/>
<use href="#mg" x="1034.2" y="586.8"/>
<use href="#mg" x="1038.7" y="585.3"/>
<use href="#mg" x="1043.2" y="583.8"/>
<use href="#mg" x="1047.7" y="582.2"/>
<use href="#mg" x="1052.2" y="580.6"/>
<use href="#mg" x="1056.7" y="578.9"/>
<use href="#mg" x="1061.2" y="577.2"/>
<use href="#mg" x="1065.7" y="575.4"/>
<use href="#mg" x="1070.2" y="573.7"/>
<use href="#mg" x="1074.7" y="571.9"/>
<use href="#mg" x="1079.2" y="570.0"/>
<use href="#mg" x="1083.8" y="568.2"/>
<use href="#mg" x="1088.3" y="566.3"/>
<use href="#mg" x="1092.8" y="564.4"/>
<use href="#mg" x="1097.3" y="562.4"/>
<use href="#mg" x="1101.8" y="560.5"/>
<use href="#mg" x="1106.3" y="558.5"/>
<use href="#mg" x="1110.8" y="556.5"/>
<use href="#mg" x="1115.3" y="554.6"/>
<use href="#mg" x="1119.8" y="552.6"/>
<use href="#mg" x="1124.3" y="550.5"/>
<use href="#mg" x="1128.8" y="548.5"/>
<use href="#mg" x="1133.3" y="546.5"/>
<use href="#mg" x="1137.8" y="544.5"/>
<use href="#mg" x="1142.3" y="542.4"/>
<use href="#mg" x="1146.8" y="540.4"/>
<use href="#mg" x="1151.3" y="538.4"/>
<use href="#mg" x="1155.8" y="536.4"/>
<use href="#mg" x="1160.3" y="534.4"/>
<use href="#mg" x="1164.9" y="532.3"/>
<use href="#mg" x="1169.4" y="530.3"/>
<use href="#mg" x="1173.9" y="528.3"/>
<use href="#mg" x="1178.4" y="526.3"/>
<use href="#mg" x="1182.9" y="524.3"/>
<use href="#mg" x="1187.4" y="522.3"/>
<use href="#mg" x="1191.9" y="520.3"/>
<use href="#mg" x="1196.4" y="518.3"/>
<use href="#mg" x="1200.9" y="516.4"/>
<use href="#mg" x="1205.4" y="514.4"/>
<use href="#mg" x="1209.9" y="512.4"/>
<use href="#mg" x="1214.4" y="510.5"/>
<use href="#mg" x="1218.9" y="508.6"/>
<use href="#mg" x="1223.4" y="506.6"/>
<use href="#mg" x="1227.9" y="504.7"/>
<use href="#mg" x="1232.4" y="502.8"/>
<use href="#mg" x="1236.9" y="500.9"/>
<use href="#mg" x="1241.4" y="499.0"/>
<use href="#mg" x="1246.0" y="497.1"/>
<use href="#mg" x="1250.5" y="495.3"/>
<use href="#mg" x="1255.0" y="493.4"/>
<use href="#mg" x="1259.5" y="491.6"/>
<use href="#mg" x="1264.0" y="489.8"/>
<use href="#mg" x="1268.5" y="488.0"/>
<use href="#mg" x="1273.0" y="486.2"/>
<use href="#mg" x="1277.5" y="484.4"/>
<use href="#mg" x="1282.0" y="482.7"/>
<use href="#mg" x="1286.5" y="480.9"/>
<use href="#mg" x="1291.0" y="479.2"/>
<use href="#mg" x="1295.5" y="477.5"/>
<use href="#mg" x="1300.0" y="475.8"/>
<use href="#mg" x="1304.5" y="474.2"/>
<use href="#mg" x="1309.0" y="472.5"/>
<use href="#mg" x="1313.5" y="470.9"/>
<use href="#mg" x="1318.0" y="469.3"/>
<use href="#mg" x="1322.5" y="467.7"/>
<use href="#mg" x="1327.1" y="466.2"/>
<use href="#mg" x="1331.6" y="464.6"/>
<use href="#mg" x="1336.1" y="463.1"/>
<use href="#mg" x="1340.6" y="461.6"/>
<use href="#mg" x="1345.1" y="460.1"/>
<use href="#mg" x="1349.6" y="458.7"/>
<use href="#mg" x="1354.1" y="457.2"/>
<use href="#mg" x="1358.6" y="455.8"/>
<use href="#mg" x="1363.1" y="454.4"/>
<use href="#mg" x="1367.6" y="453.0"/>
<use href="#mg" x="1372.1" y="451.6"/>
<use href="#mg" x="1376.6" y="450.2"/>
<use href="#mg" x="1381.1" y="448.9"/>
<use href="#mg" x="1385.6" y="447.6"/>
<use href="#mg" x="1390.1" y="446.3"/>
<use href="#mg" x="1394.6" y="445.0"/>
<use href="#mg" x="1399.1" y="443.7"/>
<use href="#mg" x="1403.7" y="442.5"/>
<use href="#mg" x="1408.2" y="441.2"/>
<use href="#mg" x="1412.7" y="440.0"/>
<use href="#mg" x="1417.2" y="438.8"/>
<use href="#mg" x="1421.7" y="437.6"/>
<use href="#mg" x="1426.2" y="436.4"/>
<use href="#mg" x="1430.7" y="435.3"/>
<use href="#mg" x="1435.2" y="434.1"/>
<use href="#mg" x="1439.7" y="433.0"/>
<use href="#mg" x="1444.2" y="431.9"/>
<use href="#mg" x="1448.7" y="430.8"/>
<use href="#mg" x="1453.2" y="429.7"/>
<use href="#mg" x="1457.7" y="428.7"/>
<use href="#mg" x="1462.2" y="427.6"/>
<use href="#mg" x="1466.7" y="426.6"/>
<use href="#mg" x="1471.2" y="425.6"/>
<use href="#mg" x="1475.7" y="424.6"/>
<use href="#mg" x="1480.2" y="423.6"/>
<use href="#mg" x="1484.8" y="422.6"/>
<use href="#mg" x="1489.3" y="421.6"/>
<use href="#mg" x="1493.8" y="420.7"/>
<use href="#mg" x="1498.3" y="419.7"/>
<use href="#mg" x="1502.8" y="418.8"/>
<use href="#mg" x="1507.3" y="417.9"/>
<use href="#mg" x="1511.8" y="417.0"/>
<use href="#mg" x="1516.3" y="416.1"/>
<use href="#mg" x="1520.8" y="415.2"/>
<use href="#mg" x="1525.3" y="414.4"/>
<use href="#mg" x="1529.8" y="413.5"/>
<use href="#mg" x="1534.3" y="412.7"/>
<use href="#mg" x="1538.8" y="411.8"/>
<use href="#mg" x="1543.3" y="411.0"/>
<use href="#mg" x="1547.8" y="410.2"/>
<use href="#mg" x="1552.3" y="409.4"/>
<use href="#mg" x="1556.8" y="408.7"/>
<use href="#mg" x="1561.3" y="407.9"/>
<use href="#mg" x="1565.9" y="407.1"/>
<use href="#mg" x="1570.4" y="406.4"/>
<use href="#mg" x="1574.9" y="405.7"/>
<use href="#mg" x="1579.4" y="404.9"/>
<use href="#mg" x="1583.9" y="404.2"/>
<use href="#mg" x="1588.4" y="403.5"/>
<use href="#mg" x="1592.9" y="402.8"/>
<use href="#mg" x="1597.4" y="402.1"/>
<use href="#mg" x="1601.9" y="401.5"/>
<use href="#mg" x="1606.4" y="400.8"/>
<use href="#mg" x="1610.9" y="400.1"/>
<use href="#mg" x="1615.4" y="399.5"/>
<use href="#mg" x="1619.9" y="398.8"/>
<use href="#mg" x="1624.4" y="398.2"/>
<use href="#mg" x="1628.9" y="397.6"/>
<use href="#mg" x="1633.4" y="397.0"/>
<use href="#mg" x="1637.9" y="396.4"/>
<use href="#mg" x="1642.4" y="395.8"/>
<use href="#mg" x="1647.0" y="395.2"/>
<use href="#mg" x="1651.5" y="394.6"/>
<use href="#mg" x="1656.0" y="394.0"/>
<use href="#mg" x="1660.5" y="393.5"/>
<use href="#mg" x="1665.0" y="392.9"/>
<use href="#mg" x="1669.5" y="392.4"/>
<use href="#mg" x="1674.0" y="391.8"/>
<use href="#mg" x="1678.5" y="391.3"/>
<use href="#mg" x="1683.0" y="390.8"/>
<polyline points="969.4,599.1 978.4,597.3 987.4,595.4 996.4,593.1 1005.4,590.6 1014.4,587.8 1023.4,584.7 1032.5,581.4 1041.5,577.8 1050.5,573.9 1059.5,569.9 1068.5,565.6 1077.5,561.1 1086.5,556.4 1095.5,551.6 1104.5,546.7 1113.6,541.6 1122.6,536.5 1131.6,531.3 1140.6,526.0 1149.6,520.8 1158.6,515.5 1167.6,510.1 1176.6,504.8 1185.7,499.4 1194.7,494.1 1203.7,488.7 1212.7,483.3 1221.7,478.0 1230.7,472.6 1239.7,467.2 1248.7,461.8 1257.7,456.4 1266.8,451.1 1275.8,445.7 1284.8,440.4 1293.8,435.1 1302.8,429.8 1311.8,424.5 1320.8,419.3 1329.8,414.1 1338.8,408.9 1347.9,403.7 1356.9,398.6 1365.9,393.5 1374.9,388.5 1383.9,383.5 1392.9,378.6 1401.9,373.7 1410.9,368.8 1419.9,364.0 1429.0,359.3 1438.0,354.6 1447.0,350.0 1456.0,345.5 1465.0,341.0 1474.0,336.6 1483.0,332.3 1492.0,328.1 1501.0,323.9 1510.1,319.8 1519.1,315.8 1528.1,311.9 1537.1,308.1 1546.1,304.4 1555.1,300.7 1564.1,297.2 1573.1,293.8 1582.1,290.4 1591.2,287.2 1600.2,284.1 1609.2,281.1 1618.2,278.2 1627.2,275.4 1636.2,272.8 1645.2,270.2 1654.2,267.8 1663.2,265.5 1672.3,263.4 1681.5,271.5" fill="none" stroke="#ff00ff" stroke-width="6" stroke-linejoin="round" stroke-linecap="round"/>
<use href="#mm" x="969.4" y="599.1"/>
<use href="#mm" x="978.4" y="597.3"/>
<use href="#mm" x="987.4" y="595.4"/>
<use href="#mm" x="996.4" y="593.1"/>
<use href="#mm" x="1005.4" y="590.6"/>
<use href="#mm" x="1014.4" y="587.8"/>
<use href="#mm" x="1023.4" y="584.7"/>
<use href="#mm" x="1032.5" y="581.4"/>
<use href="#mm" x="1041.5" y="577.8"/>
<use href="#mm" x="1050.5" y="573.9"/>
<use href="#mm" x="1059.5" y="569.9"/>
<use href="#mm" x="1068.5" y="565.6"/>
<use href="#mm" x="1077.5" y="561.1"/>
<use href="#mm" x="1086.5" y="556.4"/>
<use href="#mm" x="1095.5" y="551.6"/>
<use href="#mm" x="1104.5" y="546.7"/>
<use href="#mm" x="1113.6" y="541.6"/>
<use href="#mm" x="1122.6" y="536.5"/>
<use href="#mm" x="1131.6" y="531.3"/>
<use href="#mm" x="1140.6" y="526.0"/>
<use href="#mm" x="1149.6" y="520.8"/>
<use href="#mm" x="1158.6" y="515.5"/>
<use href="#mm" x="1167.6" y="510.1"/>
<use href="#mm" x="1176.6" y="504.8"/>
<use href="#mm" x="1185.7" y="499.4"/>
<use href="#mm" x="1194.7" y="494.1"/>
<use href="#mm" x="1203.7" y="488.7"/>
<use href="#mm" x="1212.7" y="483.3"/>
<use href="#mm" x="1221.7" y="478.0"/>
<use href="#mm" x="1230.7" y="472.6"/>
<use href="#mm" x="1239.7" y="467.2"/>
<use href="#mm" x="1248.7" y="461.8"/>
<use href="#mm" x="1257.7" y="456.4"/>
<use href="#mm" x="1266.8" y="451.1"/>
<use href="#mm" x="1275.8" y="445.7"/>
<use href="#mm" x="1284.8" y="440.4"/>
<use href="#mm" x="1293.8" y="435.1"/>
<use href="#mm" x="1302.8" y="429.8"/>
<use href="#mm" x="1311.8" y="424.5"/>
<use href="#mm" x="1320.8" y="419.3"/>
<use href="#mm" x="1329.8" y="414.1"/>
<use href="#mm" x="1338.8" y="408.9"/>
<use href="#mm" x="1347.9" y="403.7"/>
<use href="#mm" x="1356.9" y="398.6"/>
<use href="#mm" x="1365.9" y="393.5"/>
<use href="#mm" x="1374.9" y="388.5"/>
<use href="#mm" x="1383.9" y="383.5"/>
<use href="#mm" x="1392.9" y="378.6"/>
<use href="#mm" x="1401.9" y="373.7"/>
<use href="#mm" x="1410.9" y="368.8"/>
<use href="#mm" x="1419.9" y="364.0"/>
<use href="#mm" x="1429.0" y="359.3"/>
<use href="#mm" x="1438.0" y="354.6"/>
<use href="#mm" x="1447.0" y="350.0"/>
<use href="#mm" x="1456.0" y="345.5"/>
<use href="#mm" x="1465.0" y="341.0"/>
<use href="#mm" x="1474.0" y="336.6"/>
<use href="#mm" x="1483.0" y="332.3"/>
<use href="#mm" x="1492.0" y="328.1"/>
<use href="#mm" x="1501.0" y="323.9"/>
<use href="#mm" x="1510.1" y="319.8"/>
<use href="#mm" x="1519.1" y="315.8"/>
<use href="#mm" x="1528.1" y="311.9"/>
<use href="#mm" x="1537.1" y="308.1"/>
<use href="#mm" x="1546.1" y="304.4"/>
<use href="#mm" x="1555.1" y="300.7"/>
<use href="#mm" x="1564.1" y="297.2"/>
<use href="#mm" x="1573.1" y="293.8"/>
<use href="#mm" x="1582.1" y="290.4"/>
<use href="#mm" x="1591.2" y="287.2"/>
<use href="#mm" x="1600.2" y="284.1"/>
<use href="#mm" x="1609.2" y="281.1"/>
<use href="#mm" x="1618.2" y="278.2"/>
<use href="#mm" x="1627.2" y="275.4"/>
<use href="#mm" x="1636.2" y="272.8"/>
<use href="#mm" x="1645.2" y="270.2"/>
<use href="#mm" x="1654.2" y="267.8"/>
<use href="#mm" x="1663.2" y="265.5"/>
<use href="#mm" x="1672.3" y="263.4"/>
<use href="#mm" x="1681.5" y="271.5"/>
</g>
<line x1="955.90" y1="6.30" x2="1682.50" y2="6.30" stroke="#000" stroke-width="3.3"/>
<line x1="955.90" y1="4.70" x2="955.90" y2="604.40" stroke="#000" stroke-width="2.6"/>
<line x1="1682.50" y1="4.70" x2="1682.50" y2="604.40" stroke="#000" stroke-width="2.6"/>
<line x1="943.50" y1="602.90" x2="1684.00" y2="602.90" stroke="#000" stroke-width="2.8"/>
<line x1="943.50" y1="602.90" x2="955.90" y2="602.90" stroke="#000" stroke-width="2.8"/>
<text x="939.50" y="611.50" font-size="27" text-anchor="end" font-weight="bold" >0.0</text>
<line x1="949.80" y1="548.60" x2="955.90" y2="548.60" stroke="#000" stroke-width="2.4"/>
<line x1="943.50" y1="494.30" x2="955.90" y2="494.30" stroke="#000" stroke-width="2.8"/>
<text x="939.50" y="502.90" font-size="27" text-anchor="end" font-weight="bold" >0.5</text>
<line x1="949.80" y1="440.00" x2="955.90" y2="440.00" stroke="#000" stroke-width="2.4"/>
<line x1="943.50" y1="385.70" x2="955.90" y2="385.70" stroke="#000" stroke-width="2.8"/>
<text x="939.50" y="394.30" font-size="27" text-anchor="end" font-weight="bold" >1.0</text>
<line x1="949.80" y1="331.40" x2="955.90" y2="331.40" stroke="#000" stroke-width="2.4"/>
<line x1="943.50" y1="277.10" x2="955.90" y2="277.10" stroke="#000" stroke-width="2.8"/>
<text x="939.50" y="285.70" font-size="27" text-anchor="end" font-weight="bold" >1.5</text>
<line x1="949.80" y1="222.80" x2="955.90" y2="222.80" stroke="#000" stroke-width="2.4"/>
<line x1="943.50" y1="168.50" x2="955.90" y2="168.50" stroke="#000" stroke-width="2.8"/>
<text x="939.50" y="177.10" font-size="27" text-anchor="end" font-weight="bold" >2.0</text>
<line x1="949.80" y1="114.20" x2="955.90" y2="114.20" stroke="#000" stroke-width="2.4"/>
<line x1="943.50" y1="59.90" x2="955.90" y2="59.90" stroke="#000" stroke-width="2.8"/>
<text x="939.50" y="68.50" font-size="27" text-anchor="end" font-weight="bold" >2.5</text>
<line x1="962.10" y1="602.90" x2="962.10" y2="614.70" stroke="#000" stroke-width="3"/>
<line x1="1034.19" y1="602.90" x2="1034.19" y2="608.90" stroke="#000" stroke-width="2.4"/>
<line x1="1106.28" y1="602.90" x2="1106.28" y2="614.70" stroke="#000" stroke-width="3"/>
<line x1="1178.37" y1="602.90" x2="1178.37" y2="608.90" stroke="#000" stroke-width="2.4"/>
<line x1="1250.46" y1="602.90" x2="1250.46" y2="614.70" stroke="#000" stroke-width="3"/>
<line x1="1322.55" y1="602.90" x2="1322.55" y2="608.90" stroke="#000" stroke-width="2.4"/>
<line x1="1394.64" y1="602.90" x2="1394.64" y2="614.70" stroke="#000" stroke-width="3"/>
<line x1="1466.73" y1="602.90" x2="1466.73" y2="608.90" stroke="#000" stroke-width="2.4"/>
<line x1="1538.82" y1="602.90" x2="1538.82" y2="614.70" stroke="#000" stroke-width="3"/>
<line x1="1610.91" y1="602.90" x2="1610.91" y2="608.90" stroke="#000" stroke-width="2.4"/>
<line x1="1683.00" y1="602.90" x2="1683.00" y2="614.70" stroke="#000" stroke-width="3"/>
<text x="962.10" y="645.20" font-size="27" text-anchor="middle" font-weight="bold" >0.0</text>
<text x="1106.28" y="645.20" font-size="27" text-anchor="middle" font-weight="bold" >200.0k</text>
<text x="1250.46" y="645.20" font-size="27" text-anchor="middle" font-weight="bold" >400.0k</text>
<text x="1394.64" y="645.20" font-size="27" text-anchor="middle" font-weight="bold" >600.0k</text>
<text x="1538.82" y="645.20" font-size="27" text-anchor="middle" font-weight="bold" >800.0k</text>
<text x="1683.00" y="645.20" font-size="27" text-anchor="middle" font-weight="bold" >1.0M</text>
<text x="1319.80" y="685.20" font-size="30.5" text-anchor="middle" font-weight="bold" >Frequency (Hz)</text>
<text transform="translate(894.3,308.6) rotate(-90) scale(1.049,1)" font-size="30" text-anchor="middle" font-weight="bold">AC conductivity 10<tspan font-size="19" dy="-12">-5</tspan><tspan dy="12"> (S/cm)</tspan></text>
<text x="961.50" y="38.20" font-size="31" text-anchor="start" font-weight="bold" >b)</text>
<line x1="1376.00" y1="481.90" x2="1443.50" y2="481.90" stroke="#0000f5" stroke-width="6" stroke-linecap="round"/>
<use href="#lb" x="1409.2" y="481.9"/>
<text x="1453.90" y="491.20" font-size="30.5" text-anchor="start" font-weight="bold" >Cu<tspan font-size="20.1" dy="10.0">2</tspan><tspan dy="-10.0">O/TiO</tspan><tspan font-size="20.1" dy="10.0">2</tspan><tspan dy="-10.0"> 150</tspan></text>
<line x1="1376.00" y1="527.30" x2="1443.50" y2="527.30" stroke="#0a800a" stroke-width="6" stroke-linecap="round"/>
<use href="#lg" x="1409.2" y="527.3"/>
<text x="1453.90" y="536.60" font-size="30.5" text-anchor="start" font-weight="bold" >Cu<tspan font-size="20.1" dy="10.0">2</tspan><tspan dy="-10.0">O/TiO</tspan><tspan font-size="20.1" dy="10.0">2</tspan><tspan dy="-10.0"> 200</tspan></text>
<line x1="1376.00" y1="573.40" x2="1443.50" y2="573.40" stroke="#ff00ff" stroke-width="6" stroke-linecap="round"/>
<use href="#lm" x="1409.2" y="573.4"/>
<text x="1453.90" y="582.70" font-size="30.5" text-anchor="start" font-weight="bold" >Cu<tspan font-size="20.1" dy="10.0">2</tspan><tspan dy="-10.0">O/TiO</tspan><tspan font-size="20.1" dy="10.0">2</tspan><tspan dy="-10.0"> 250</tspan></text>
<g clip-path="url(#cBI)">
<polyline points="1017.8,340.5 1020.4,337.6 1025.6,332.4 1030.9,329.3 1036.1,326.8 1041.3,327.2 1046.5,324.7 1051.7,317.8 1055.9,307.4 1061.1,301.8 1066.3,308.0 1071.5,303.2 1076.3,307.4 1082.0,303.2 1086.1,295.9 1091.3,295.9 1096.5,289.3 1101.8,291.8 1106.3,287.2 1111.1,291.8 1116.4,284.5 1121.6,290.7 1125.7,278.8 1131.0,278.8 1136.2,282.4 1141.0,267.8 1146.0,260.5 1150.8,271.9 1156.0,257.4 1160.6,268.8 1165.4,256.3 1170.6,254.6 1175.5,245.1 1180.6,237.6 1185.7,238.9 1190.8,240.3 1195.9,239.7 1201.0,237.2 1206.1,237.1 1211.2,235.2 1216.3,234.6 1221.4,232.6 1226.5,231.1 1231.6,231.4 1236.7,229.8 1241.8,229.4 1246.9,230.8 1252.0,227.2 1257.1,223.4 1262.2,220.2 1267.3,215.7 1272.4,212.8 1277.5,211.4 1282.6,207.9 1287.7,210.7 1292.8,214.0 1297.9,205.7 1303.0,200.4 1308.1,196.9 1313.2,192.8 1318.3,182.8 1323.4,179.2 1328.5,181.3 1333.6,177.2 1338.7,177.7 1343.8,177.6 1348.9,173.4 1354.0,170.4 1359.1,169.6 1364.2,169.8 1369.3,165.5 1374.4,164.5 1379.5,162.2 1384.6,161.4 1389.7,152.2 1394.8,144.5 1399.9,138.7 1405.0,130.3 1410.1,125.2" fill="none" stroke="#000" stroke-width="3" stroke-linejoin="round" stroke-linecap="round"/>
<use href="#mk2" x="1017.8" y="340.5"/>
<use href="#mk2" x="1020.4" y="337.6"/>
<use href="#mk2" x="1025.6" y="332.4"/>
<use href="#mk2" x="1030.9" y="329.3"/>
<use href="#mk2" x="1036.1" y="326.8"/>
<use href="#mk2" x="1041.3" y="327.2"/>
<use href="#mk2" x="1046.5" y="324.7"/>
<use href="#mk2" x="1051.7" y="317.8"/>
<use href="#mk2" x="1055.9" y="307.4"/>
<use href="#mk2" x="1061.1" y="301.8"/>
<use href="#mk2" x="1066.3" y="308.0"/>
<use href="#mk2" x="1071.5" y="303.2"/>
<use href="#mk2" x="1076.3" y="307.4"/>
<use href="#mk2" x="1082.0" y="303.2"/>
<use href="#mk2" x="1086.1" y="295.9"/>
<use href="#mk2" x="1091.3" y="295.9"/>
<use href="#mk2" x="1096.5" y="289.3"/>
<use href="#mk2" x="1101.8" y="291.8"/>
<use href="#mk2" x="1106.3" y="287.2"/>
<use href="#mk2" x="1111.1" y="291.8"/>
<use href="#mk2" x="1116.4" y="284.5"/>
<use href="#mk2" x="1121.6" y="290.7"/>
<use href="#mk2" x="1125.7" y="278.8"/>
<use href="#mk2" x="1131.0" y="278.8"/>
<use href="#mk2" x="1136.2" y="282.4"/>
<use href="#mk2" x="1141.0" y="267.8"/>
<use href="#mk2" x="1146.0" y="260.5"/>
<use href="#mk2" x="1150.8" y="271.9"/>
<use href="#mk2" x="1156.0" y="257.4"/>
<use href="#mk2" x="1160.6" y="268.8"/>
<use href="#mk2" x="1165.4" y="256.3"/>
<use href="#mk2" x="1170.6" y="254.6"/>
<use href="#mk2" x="1175.5" y="245.1"/>
<use href="#mk2" x="1180.6" y="237.6"/>
<use href="#mk2" x="1185.7" y="238.9"/>
<use href="#mk2" x="1190.8" y="240.3"/>
<use href="#mk2" x="1195.9" y="239.7"/>
<use href="#mk2" x="1201.0" y="237.2"/>
<use href="#mk2" x="1206.1" y="237.1"/>
<use href="#mk2" x="1211.2" y="235.2"/>
<use href="#mk2" x="1216.3" y="234.6"/>
<use href="#mk2" x="1221.4" y="232.6"/>
<use href="#mk2" x="1226.5" y="231.1"/>
<use href="#mk2" x="1231.6" y="231.4"/>
<use href="#mk2" x="1236.7" y="229.8"/>
<use href="#mk2" x="1241.8" y="229.4"/>
<use href="#mk2" x="1246.9" y="230.8"/>
<use href="#mk2" x="1252.0" y="227.2"/>
<use href="#mk2" x="1257.1" y="223.4"/>
<use href="#mk2" x="1262.2" y="220.2"/>
<use href="#mk2" x="1267.3" y="215.7"/>
<use href="#mk2" x="1272.4" y="212.8"/>
<use href="#mk2" x="1277.5" y="211.4"/>
<use href="#mk2" x="1282.6" y="207.9"/>
<use href="#mk2" x="1287.7" y="210.7"/>
<use href="#mk2" x="1292.8" y="214.0"/>
<use href="#mk2" x="1297.9" y="205.7"/>
<use href="#mk2" x="1303.0" y="200.4"/>
<use href="#mk2" x="1308.1" y="196.9"/>
<use href="#mk2" x="1313.2" y="192.8"/>
<use href="#mk2" x="1318.3" y="182.8"/>
<use href="#mk2" x="1323.4" y="179.2"/>
<use href="#mk2" x="1328.5" y="181.3"/>
<use href="#mk2" x="1333.6" y="177.2"/>
<use href="#mk2" x="1338.7" y="177.7"/>
<use href="#mk2" x="1343.8" y="177.6"/>
<use href="#mk2" x="1348.9" y="173.4"/>
<use href="#mk2" x="1354.0" y="170.4"/>
<use href="#mk2" x="1359.1" y="169.6"/>
<use href="#mk2" x="1364.2" y="169.8"/>
<use href="#mk2" x="1369.3" y="165.5"/>
<use href="#mk2" x="1374.4" y="164.5"/>
<use href="#mk2" x="1379.5" y="162.2"/>
<use href="#mk2" x="1384.6" y="161.4"/>
<use href="#mk2" x="1389.7" y="152.2"/>
<use href="#mk2" x="1394.8" y="144.5"/>
<use href="#mk2" x="1399.9" y="138.7"/>
<use href="#mk2" x="1405.0" y="130.3"/>
<use href="#mk2" x="1410.1" y="125.2"/>
<polyline points="1015.0,271.9 1016.5,266.1 1018.0,267.3 1019.5,262.3 1021.0,263.7 1022.5,260.4 1024.0,261.8 1025.5,257.2 1027.0,257.6 1028.5,254.8 1030.0,256.2 1031.5,252.1 1033.0,251.8 1034.5,247.2 1036.0,250.3 1037.5,245.5 1039.0,246.4 1040.5,242.0 1042.0,245.5 1043.5,240.5 1045.0,243.2 1046.5,239.1 1048.0,242.6 1049.5,237.8 1051.0,239.5 1052.5,237.7 1054.0,239.7 1055.5,235.5 1057.0,239.0 1058.5,234.8 1060.0,237.7 1061.5,235.2 1063.0,237.6 1064.5,235.2 1066.0,237.6 1067.5,234.2 1069.0,237.3 1070.5,235.6 1072.0,238.5 1073.5,235.2 1075.0,237.6 1076.5,233.8 1078.0,238.6 1079.5,235.1 1081.0,236.8 1082.5,234.4 1084.0,237.7 1085.5,235.0 1087.0,238.5 1088.5,235.3 1090.0,240.1 1091.5,237.8 1093.0,241.9 1094.5,240.6 1096.0,242.8 1097.5,242.2 1099.0,243.8 1100.5,241.0 1102.0,244.6 1103.5,241.9 1105.0,245.0 1106.5,242.7 1108.0,244.4 1109.5,243.2 1111.0,246.6 1112.5,243.5 1114.0,246.5 1115.5,244.4 1117.0,247.8 1118.5,244.1 1120.0,247.6 1121.5,244.8 1123.0,247.8 1124.5,244.9 1126.0,248.4 1127.5,245.0 1129.0,249.2 1130.5,244.3 1132.0,247.5 1133.5,245.6 1135.0,247.5 1136.5,245.6 1138.0,249.0 1139.5,244.8 1141.0,248.4 1142.5,245.9 1144.0,248.6 1145.5,244.5 1147.0,247.3 1148.5,243.9 1150.0,246.6 1151.5,245.0 1153.0,248.0 1154.5,245.2 1156.0,246.5 1157.5,244.1 1159.0,247.6 1160.5,243.8 1162.0,246.0 1163.5,244.3 1165.0,247.2 1166.5,243.8 1168.0,245.8 1169.5,244.1 1171.0,245.4 1172.5,241.6 1174.0,244.4 1175.5,241.8 1177.0,245.5 1178.5,240.7 1180.0,243.2 1181.5,239.6 1183.0,241.5 1184.5,238.5 1186.0,240.4 1187.5,236.4 1189.0,240.6 1190.5,235.6 1192.0,238.6 1193.5,234.6 1195.0,238.9 1196.5,234.7 1198.0,237.1 1199.5,234.2 1201.0,235.4 1202.5,232.2 1204.0,234.4 1205.5,231.6 1207.0,233.7 1208.5,230.6 1210.0,234.1 1211.5,229.1 1213.0,232.4 1214.5,229.3 1216.0,231.3 1217.5,227.3 1219.0,230.7 1220.5,227.1 1222.0,228.2 1223.5,225.6 1225.0,226.4 1226.5,222.6 1228.0,226.3 1229.5,220.6 1231.0,223.0 1232.5,220.3 1234.0,223.3 1235.5,218.7 1237.0,220.7 1238.5,216.5 1240.0,220.2 1241.5,216.2 1243.0,217.6 1244.5,214.3 1246.0,215.0 1247.5,211.4 1249.0,213.0 1250.5,208.7 1252.0,211.0 1253.5,207.7 1255.0,209.2 1256.5,205.1 1258.0,205.5 1259.5,201.0 1261.0,203.1 1262.5,200.0 1264.0,200.8 1265.5,197.3 1267.0,198.4 1268.5,193.8 1270.0,193.1 1271.5,187.8 1273.0,189.8 1274.5,183.8 1276.0,186.7 1277.5,180.6 1279.0,181.9 1280.5,178.5 1282.0,180.1 1283.5,178.1 1285.0,180.1 1286.5,176.0 1288.0,178.6 1289.5,174.2 1291.0,177.4 1292.5,172.7 1294.0,176.4 1295.5,171.7 1297.0,174.7 1298.5,169.4 1300.0,172.6 1301.5,168.5 1303.0,170.7 1304.5,166.7 1306.0,168.7 1307.5,165.6 1309.0,168.2 1310.5,164.5 1312.0,165.9 1313.5,163.6 1315.0,165.9 1316.5,160.7 1318.0,164.7 1319.5,159.9 1321.0,163.1 1322.5,160.1 1324.0,162.5 1325.5,158.0 1327.0,160.9 1328.5,157.5 1330.0,159.6 1331.5,155.9 1333.0,158.5 1334.5,153.2 1336.0,156.1 1337.5,152.0 1339.0,154.3 1340.5,151.4 1342.0,153.5 1343.5,151.8 1345.0,154.2 1346.5,152.7 1348.0,155.5 1349.5,154.0 1351.0,155.8 1352.5,154.4 1354.0,158.5 1355.5,153.9 1357.0,156.8 1358.5,153.3 1360.0,153.5 1361.5,149.7 1363.0,151.4 1364.5,145.9 1366.0,148.6 1367.5,143.9 1369.0,147.4 1370.5,142.0 1372.0,144.6 1373.5,141.0 1375.0,142.4 1376.5,138.9 1378.0,140.2 1379.5,137.1 1381.0,138.4 1382.5,134.9 1384.0,136.2 1385.5,133.7 1387.0,134.4 1388.5,130.4 1390.0,132.2 1391.5,128.5 1393.0,129.5 1394.5,125.5 1396.0,125.9 1397.5,122.4 1399.0,124.2 1400.5,119.5 1402.0,120.8 1403.5,114.6 1405.0,114.7 1406.5,110.4 1408.0,109.5 1409.5,103.7 1411.0,104.4 1412.5,98.7 1414.0,98.7" fill="none" stroke="#ff0000" stroke-width="3" stroke-linejoin="round" stroke-linecap="round"/>
<use href="#mr2" x="1015.0" y="271.9"/>
<use href="#mr2" x="1016.5" y="266.1"/>
<use href="#mr2" x="1018.0" y="267.3"/>
<use href="#mr2" x="1019.5" y="262.3"/>
<use href="#mr2" x="1021.0" y="263.7"/>
<use href="#mr2" x="1022.5" y="260.4"/>
<use href="#mr2" x="1024.0" y="261.8"/>
<use href="#mr2" x="1025.5" y="257.2"/>
<use href="#mr2" x="1027.0" y="257.6"/>
<use href="#mr2" x="1028.5" y="254.8"/>
<use href="#mr2" x="1030.0" y="256.2"/>
<use href="#mr2" x="1031.5" y="252.1"/>
<use href="#mr2" x="1033.0" y="251.8"/>
<use href="#mr2" x="1034.5" y="247.2"/>
<use href="#mr2" x="1036.0" y="250.3"/>
<use href="#mr2" x="1037.5" y="245.5"/>
<use href="#mr2" x="1039.0" y="246.4"/>
<use href="#mr2" x="1040.5" y="242.0"/>
<use href="#mr2" x="1042.0" y="245.5"/>
<use href="#mr2" x="1043.5" y="240.5"/>
<use href="#mr2" x="1045.0" y="243.2"/>
<use href="#mr2" x="1046.5" y="239.1"/>
<use href="#mr2" x="1048.0" y="242.6"/>
<use href="#mr2" x="1049.5" y="237.8"/>
<use href="#mr2" x="1051.0" y="239.5"/>
<use href="#mr2" x="1052.5" y="237.7"/>
<use href="#mr2" x="1054.0" y="239.7"/>
<use href="#mr2" x="1055.5" y="235.5"/>
<use href="#mr2" x="1057.0" y="239.0"/>
<use href="#mr2" x="1058.5" y="234.8"/>
<use href="#mr2" x="1060.0" y="237.7"/>
<use href="#mr2" x="1061.5" y="235.2"/>
<use href="#mr2" x="1063.0" y="237.6"/>
<use href="#mr2" x="1064.5" y="235.2"/>
<use href="#mr2" x="1066.0" y="237.6"/>
<use href="#mr2" x="1067.5" y="234.2"/>
<use href="#mr2" x="1069.0" y="237.3"/>
<use href="#mr2" x="1070.5" y="235.6"/>
<use href="#mr2" x="1072.0" y="238.5"/>
<use href="#mr2" x="1073.5" y="235.2"/>
<use href="#mr2" x="1075.0" y="237.6"/>
<use href="#mr2" x="1076.5" y="233.8"/>
<use href="#mr2" x="1078.0" y="238.6"/>
<use href="#mr2" x="1079.5" y="235.1"/>
<use href="#mr2" x="1081.0" y="236.8"/>
<use href="#mr2" x="1082.5" y="234.4"/>
<use href="#mr2" x="1084.0" y="237.7"/>
<use href="#mr2" x="1085.5" y="235.0"/>
<use href="#mr2" x="1087.0" y="238.5"/>
<use href="#mr2" x="1088.5" y="235.3"/>
<use href="#mr2" x="1090.0" y="240.1"/>
<use href="#mr2" x="1091.5" y="237.8"/>
<use href="#mr2" x="1093.0" y="241.9"/>
<use href="#mr2" x="1094.5" y="240.6"/>
<use href="#mr2" x="1096.0" y="242.8"/>
<use href="#mr2" x="1097.5" y="242.2"/>
<use href="#mr2" x="1099.0" y="243.8"/>
<use href="#mr2" x="1100.5" y="241.0"/>
<use href="#mr2" x="1102.0" y="244.6"/>
<use href="#mr2" x="1103.5" y="241.9"/>
<use href="#mr2" x="1105.0" y="245.0"/>
<use href="#mr2" x="1106.5" y="242.7"/>
<use href="#mr2" x="1108.0" y="244.4"/>
<use href="#mr2" x="1109.5" y="243.2"/>
<use href="#mr2" x="1111.0" y="246.6"/>
<use href="#mr2" x="1112.5" y="243.5"/>
<use href="#mr2" x="1114.0" y="246.5"/>
<use href="#mr2" x="1115.5" y="244.4"/>
<use href="#mr2" x="1117.0" y="247.8"/>
<use href="#mr2" x="1118.5" y="244.1"/>
<use href="#mr2" x="1120.0" y="247.6"/>
<use href="#mr2" x="1121.5" y="244.8"/>
<use href="#mr2" x="1123.0" y="247.8"/>
<use href="#mr2" x="1124.5" y="244.9"/>
<use href="#mr2" x="1126.0" y="248.4"/>
<use href="#mr2" x="1127.5" y="245.0"/>
<use href="#mr2" x="1129.0" y="249.2"/>
<use href="#mr2" x="1130.5" y="244.3"/>
<use href="#mr2" x="1132.0" y="247.5"/>
<use href="#mr2" x="1133.5" y="245.6"/>
<use href="#mr2" x="1135.0" y="247.5"/>
<use href="#mr2" x="1136.5" y="245.6"/>
<use href="#mr2" x="1138.0" y="249.0"/>
<use href="#mr2" x="1139.5" y="244.8"/>
<use href="#mr2" x="1141.0" y="248.4"/>
<use href="#mr2" x="1142.5" y="245.9"/>
<use href="#mr2" x="1144.0" y="248.6"/>
<use href="#mr2" x="1145.5" y="244.5"/>
<use href="#mr2" x="1147.0" y="247.3"/>
<use href="#mr2" x="1148.5" y="243.9"/>
<use href="#mr2" x="1150.0" y="246.6"/>
<use href="#mr2" x="1151.5" y="245.0"/>
<use href="#mr2" x="1153.0" y="248.0"/>
<use href="#mr2" x="1154.5" y="245.2"/>
<use href="#mr2" x="1156.0" y="246.5"/>
<use href="#mr2" x="1157.5" y="244.1"/>
<use href="#mr2" x="1159.0" y="247.6"/>
<use href="#mr2" x="1160.5" y="243.8"/>
<use href="#mr2" x="1162.0" y="246.0"/>
<use href="#mr2" x="1163.5" y="244.3"/>
<use href="#mr2" x="1165.0" y="247.2"/>
<use href="#mr2" x="1166.5" y="243.8"/>
<use href="#mr2" x="1168.0" y="245.8"/>
<use href="#mr2" x="1169.5" y="244.1"/>
<use href="#mr2" x="1171.0" y="245.4"/>
<use href="#mr2" x="1172.5" y="241.6"/>
<use href="#mr2" x="1174.0" y="244.4"/>
<use href="#mr2" x="1175.5" y="241.8"/>
<use href="#mr2" x="1177.0" y="245.5"/>
<use href="#mr2" x="1178.5" y="240.7"/>
<use href="#mr2" x="1180.0" y="243.2"/>
<use href="#mr2" x="1181.5" y="239.6"/>
<use href="#mr2" x="1183.0" y="241.5"/>
<use href="#mr2" x="1184.5" y="238.5"/>
<use href="#mr2" x="1186.0" y="240.4"/>
<use href="#mr2" x="1187.5" y="236.4"/>
<use href="#mr2" x="1189.0" y="240.6"/>
<use href="#mr2" x="1190.5" y="235.6"/>
<use href="#mr2" x="1192.0" y="238.6"/>
<use href="#mr2" x="1193.5" y="234.6"/>
<use href="#mr2" x="1195.0" y="238.9"/>
<use href="#mr2" x="1196.5" y="234.7"/>
<use href="#mr2" x="1198.0" y="237.1"/>
<use href="#mr2" x="1199.5" y="234.2"/>
<use href="#mr2" x="1201.0" y="235.4"/>
<use href="#mr2" x="1202.5" y="232.2"/>
<use href="#mr2" x="1204.0" y="234.4"/>
<use href="#mr2" x="1205.5" y="231.6"/>
<use href="#mr2" x="1207.0" y="233.7"/>
<use href="#mr2" x="1208.5" y="230.6"/>
<use href="#mr2" x="1210.0" y="234.1"/>
<use href="#mr2" x="1211.5" y="229.1"/>
<use href="#mr2" x="1213.0" y="232.4"/>
<use href="#mr2" x="1214.5" y="229.3"/>
<use href="#mr2" x="1216.0" y="231.3"/>
<use href="#mr2" x="1217.5" y="227.3"/>
<use href="#mr2" x="1219.0" y="230.7"/>
<use href="#mr2" x="1220.5" y="227.1"/>
<use href="#mr2" x="1222.0" y="228.2"/>
<use href="#mr2" x="1223.5" y="225.6"/>
<use href="#mr2" x="1225.0" y="226.4"/>
<use href="#mr2" x="1226.5" y="222.6"/>
<use href="#mr2" x="1228.0" y="226.3"/>
<use href="#mr2" x="1229.5" y="220.6"/>
<use href="#mr2" x="1231.0" y="223.0"/>
<use href="#mr2" x="1232.5" y="220.3"/>
<use href="#mr2" x="1234.0" y="223.3"/>
<use href="#mr2" x="1235.5" y="218.7"/>
<use href="#mr2" x="1237.0" y="220.7"/>
<use href="#mr2" x="1238.5" y="216.5"/>
<use href="#mr2" x="1240.0" y="220.2"/>
<use href="#mr2" x="1241.5" y="216.2"/>
<use href="#mr2" x="1243.0" y="217.6"/>
<use href="#mr2" x="1244.5" y="214.3"/>
<use href="#mr2" x="1246.0" y="215.0"/>
<use href="#mr2" x="1247.5" y="211.4"/>
<use href="#mr2" x="1249.0" y="213.0"/>
<use href="#mr2" x="1250.5" y="208.7"/>
<use href="#mr2" x="1252.0" y="211.0"/>
<use href="#mr2" x="1253.5" y="207.7"/>
<use href="#mr2" x="1255.0" y="209.2"/>
<use href="#mr2" x="1256.5" y="205.1"/>
<use href="#mr2" x="1258.0" y="205.5"/>
<use href="#mr2" x="1259.5" y="201.0"/>
<use href="#mr2" x="1261.0" y="203.1"/>
<use href="#mr2" x="1262.5" y="200.0"/>
<use href="#mr2" x="1264.0" y="200.8"/>
<use href="#mr2" x="1265.5" y="197.3"/>
<use href="#mr2" x="1267.0" y="198.4"/>
<use href="#mr2" x="1268.5" y="193.8"/>
<use href="#mr2" x="1270.0" y="193.1"/>
<use href="#mr2" x="1271.5" y="187.8"/>
<use href="#mr2" x="1273.0" y="189.8"/>
<use href="#mr2" x="1274.5" y="183.8"/>
<use href="#mr2" x="1276.0" y="186.7"/>
<use href="#mr2" x="1277.5" y="180.6"/>
<use href="#mr2" x="1279.0" y="181.9"/>
<use href="#mr2" x="1280.5" y="178.5"/>
<use href="#mr2" x="1282.0" y="180.1"/>
<use href="#mr2" x="1283.5" y="178.1"/>
<use href="#mr2" x="1285.0" y="180.1"/>
<use href="#mr2" x="1286.5" y="176.0"/>
<use href="#mr2" x="1288.0" y="178.6"/>
<use href="#mr2" x="1289.5" y="174.2"/>
<use href="#mr2" x="1291.0" y="177.4"/>
<use href="#mr2" x="1292.5" y="172.7"/>
<use href="#mr2" x="1294.0" y="176.4"/>
<use href="#mr2" x="1295.5" y="171.7"/>
<use href="#mr2" x="1297.0" y="174.7"/>
<use href="#mr2" x="1298.5" y="169.4"/>
<use href="#mr2" x="1300.0" y="172.6"/>
<use href="#mr2" x="1301.5" y="168.5"/>
<use href="#mr2" x="1303.0" y="170.7"/>
<use href="#mr2" x="1304.5" y="166.7"/>
<use href="#mr2" x="1306.0" y="168.7"/>
<use href="#mr2" x="1307.5" y="165.6"/>
<use href="#mr2" x="1309.0" y="168.2"/>
<use href="#mr2" x="1310.5" y="164.5"/>
<use href="#mr2" x="1312.0" y="165.9"/>
<use href="#mr2" x="1313.5" y="163.6"/>
<use href="#mr2" x="1315.0" y="165.9"/>
<use href="#mr2" x="1316.5" y="160.7"/>
<use href="#mr2" x="1318.0" y="164.7"/>
<use href="#mr2" x="1319.5" y="159.9"/>
<use href="#mr2" x="1321.0" y="163.1"/>
<use href="#mr2" x="1322.5" y="160.1"/>
<use href="#mr2" x="1324.0" y="162.5"/>
<use href="#mr2" x="1325.5" y="158.0"/>
<use href="#mr2" x="1327.0" y="160.9"/>
<use href="#mr2" x="1328.5" y="157.5"/>
<use href="#mr2" x="1330.0" y="159.6"/>
<use href="#mr2" x="1331.5" y="155.9"/>
<use href="#mr2" x="1333.0" y="158.5"/>
<use href="#mr2" x="1334.5" y="153.2"/>
<use href="#mr2" x="1336.0" y="156.1"/>
<use href="#mr2" x="1337.5" y="152.0"/>
<use href="#mr2" x="1339.0" y="154.3"/>
<use href="#mr2" x="1340.5" y="151.4"/>
<use href="#mr2" x="1342.0" y="153.5"/>
<use href="#mr2" x="1343.5" y="151.8"/>
<use href="#mr2" x="1345.0" y="154.2"/>
<use href="#mr2" x="1346.5" y="152.7"/>
<use href="#mr2" x="1348.0" y="155.5"/>
<use href="#mr2" x="1349.5" y="154.0"/>
<use href="#mr2" x="1351.0" y="155.8"/>
<use href="#mr2" x="1352.5" y="154.4"/>
<use href="#mr2" x="1354.0" y="158.5"/>
<use href="#mr2" x="1355.5" y="153.9"/>
<use href="#mr2" x="1357.0" y="156.8"/>
<use href="#mr2" x="1358.5" y="153.3"/>
<use href="#mr2" x="1360.0" y="153.5"/>
<use href="#mr2" x="1361.5" y="149.7"/>
<use href="#mr2" x="1363.0" y="151.4"/>
<use href="#mr2" x="1364.5" y="145.9"/>
<use href="#mr2" x="1366.0" y="148.6"/>
<use href="#mr2" x="1367.5" y="143.9"/>
<use href="#mr2" x="1369.0" y="147.4"/>
<use href="#mr2" x="1370.5" y="142.0"/>
<use href="#mr2" x="1372.0" y="144.6"/>
<use href="#mr2" x="1373.5" y="141.0"/>
<use href="#mr2" x="1375.0" y="142.4"/>
<use href="#mr2" x="1376.5" y="138.9"/>
<use href="#mr2" x="1378.0" y="140.2"/>
<use href="#mr2" x="1379.5" y="137.1"/>
<use href="#mr2" x="1381.0" y="138.4"/>
<use href="#mr2" x="1382.5" y="134.9"/>
<use href="#mr2" x="1384.0" y="136.2"/>
<use href="#mr2" x="1385.5" y="133.7"/>
<use href="#mr2" x="1387.0" y="134.4"/>
<use href="#mr2" x="1388.5" y="130.4"/>
<use href="#mr2" x="1390.0" y="132.2"/>
<use href="#mr2" x="1391.5" y="128.5"/>
<use href="#mr2" x="1393.0" y="129.5"/>
<use href="#mr2" x="1394.5" y="125.5"/>
<use href="#mr2" x="1396.0" y="125.9"/>
<use href="#mr2" x="1397.5" y="122.4"/>
<use href="#mr2" x="1399.0" y="124.2"/>
<use href="#mr2" x="1400.5" y="119.5"/>
<use href="#mr2" x="1402.0" y="120.8"/>
<use href="#mr2" x="1403.5" y="114.6"/>
<use href="#mr2" x="1405.0" y="114.7"/>
<use href="#mr2" x="1406.5" y="110.4"/>
<use href="#mr2" x="1408.0" y="109.5"/>
<use href="#mr2" x="1409.5" y="103.7"/>
<use href="#mr2" x="1411.0" y="104.4"/>
<use href="#mr2" x="1412.5" y="98.7"/>
<use href="#mr2" x="1414.0" y="98.7"/>
</g>
<line x1="1013.40" y1="14.20" x2="1414.60" y2="14.20" stroke="#000" stroke-width="1.6"/>
<line x1="1013.40" y1="13.40" x2="1013.40" y2="344.10" stroke="#000" stroke-width="1.5"/>
<line x1="1414.60" y1="13.40" x2="1414.60" y2="344.10" stroke="#000" stroke-width="1.5"/>
<line x1="1007.80" y1="343.50" x2="1415.40" y2="343.50" stroke="#000" stroke-width="1.8"/>
<line x1="1007.80" y1="343.30" x2="1013.40" y2="343.30" stroke="#000" stroke-width="1.5"/>
<text x="1006.20" y="347.20" font-size="14.5" text-anchor="end" font-weight="bold" >0</text>
<line x1="1010.30" y1="306.80" x2="1013.40" y2="306.80" stroke="#000" stroke-width="1.4"/>
<line x1="1007.80" y1="270.30" x2="1013.40" y2="270.30" stroke="#000" stroke-width="1.5"/>
<text x="1006.20" y="274.20" font-size="14.5" text-anchor="end" font-weight="bold" >2</text>
<line x1="1010.30" y1="233.80" x2="1013.40" y2="233.80" stroke="#000" stroke-width="1.4"/>
<line x1="1007.80" y1="197.30" x2="1013.40" y2="197.30" stroke="#000" stroke-width="1.5"/>
<text x="1006.20" y="201.20" font-size="14.5" text-anchor="end" font-weight="bold" >4</text>
<line x1="1010.30" y1="160.80" x2="1013.40" y2="160.80" stroke="#000" stroke-width="1.4"/>
<line x1="1007.80" y1="124.30" x2="1013.40" y2="124.30" stroke="#000" stroke-width="1.5"/>
<text x="1006.20" y="128.20" font-size="14.5" text-anchor="end" font-weight="bold" >6</text>
<line x1="1010.30" y1="87.80" x2="1013.40" y2="87.80" stroke="#000" stroke-width="1.4"/>
<line x1="1007.80" y1="51.30" x2="1013.40" y2="51.30" stroke="#000" stroke-width="1.5"/>
<text x="1006.20" y="55.20" font-size="14.5" text-anchor="end" font-weight="bold" >8</text>
<line x1="1010.30" y1="14.80" x2="1013.40" y2="14.80" stroke="#000" stroke-width="1.4"/>
<line x1="1017.50" y1="343.50" x2="1017.50" y2="349.50" stroke="#000" stroke-width="1.6"/>
<line x1="1057.17" y1="343.50" x2="1057.17" y2="347.50" stroke="#000" stroke-width="1.4"/>
<line x1="1096.84" y1="343.50" x2="1096.84" y2="349.50" stroke="#000" stroke-width="1.6"/>
<line x1="1136.51" y1="343.50" x2="1136.51" y2="347.50" stroke="#000" stroke-width="1.4"/>
<line x1="1176.18" y1="343.50" x2="1176.18" y2="349.50" stroke="#000" stroke-width="1.6"/>
<line x1="1215.85" y1="343.50" x2="1215.85" y2="347.50" stroke="#000" stroke-width="1.4"/>
<line x1="1255.52" y1="343.50" x2="1255.52" y2="349.50" stroke="#000" stroke-width="1.6"/>
<line x1="1295.19" y1="343.50" x2="1295.19" y2="347.50" stroke="#000" stroke-width="1.4"/>
<line x1="1334.86" y1="343.50" x2="1334.86" y2="349.50" stroke="#000" stroke-width="1.6"/>
<line x1="1374.53" y1="343.50" x2="1374.53" y2="347.50" stroke="#000" stroke-width="1.4"/>
<line x1="1414.20" y1="343.50" x2="1414.20" y2="349.50" stroke="#000" stroke-width="1.6"/>
<text x="1017.50" y="366.50" font-size="15" text-anchor="middle" font-weight="bold" >0.0</text>
<text x="1096.84" y="366.50" font-size="15" text-anchor="middle" font-weight="bold" >200.0k</text>
<text x="1176.18" y="366.50" font-size="15" text-anchor="middle" font-weight="bold" >400.0k</text>
<text x="1255.52" y="366.50" font-size="15" text-anchor="middle" font-weight="bold" >600.0k</text>
<text x="1334.86" y="366.50" font-size="15" text-anchor="middle" font-weight="bold" >800.0k</text>
<text x="1414.20" y="366.50" font-size="15" text-anchor="middle" font-weight="bold" >1.0M</text>
<text x="1217.00" y="384.00" font-size="16.8" text-anchor="middle" font-weight="bold" >Frequency (Hz)</text>
<text transform="translate(990.2,177.7) rotate(-90) scale(1.037,1)" font-size="16.5" text-anchor="middle" font-weight="bold">AC conductivity 10<tspan font-size="10.5" dy="-6.5">-9</tspan><tspan dy="6.5"> (S/cm)</tspan></text>
<line x1="1253.00" y1="28.90" x2="1289.50" y2="28.90" stroke="#000" stroke-width="4.2" stroke-linecap="round"/>
<use href="#lk2" x="1270.5" y="29"/>
<text x="1295.70" y="34.70" font-size="16.5" text-anchor="start" font-weight="bold" >Cu<tspan font-size="11.9" dy="4.6">2</tspan><tspan dy="-4.6">O/TiO</tspan><tspan font-size="11.9" dy="4.6">2</tspan><tspan dy="-4.6"> RT</tspan></text>
<line x1="1253.00" y1="54.10" x2="1289.50" y2="54.10" stroke="#ff0000" stroke-width="4" stroke-linecap="round"/>
<use href="#lr2" x="1270.5" y="54.2"/>
<text x="1295.70" y="59.60" font-size="16.5" text-anchor="start" font-weight="bold" >Cu<tspan font-size="11.9" dy="4.6">2</tspan><tspan dy="-4.6">O/TiO</tspan><tspan font-size="11.9" dy="4.6">2</tspan><tspan dy="-4.6"> 100</tspan></text>
</svg></body></html>
